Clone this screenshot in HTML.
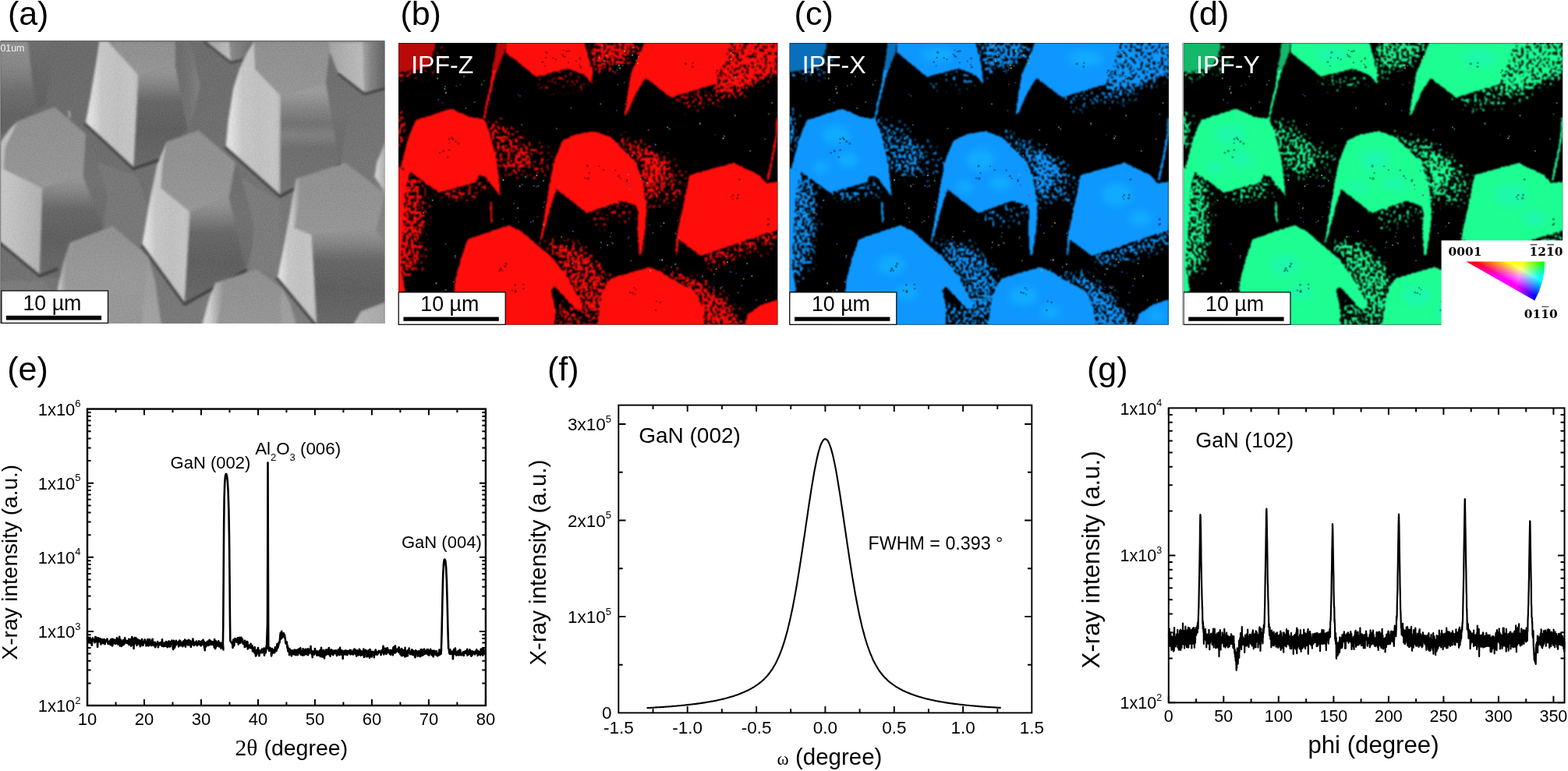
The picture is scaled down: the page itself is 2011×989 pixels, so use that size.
<!DOCTYPE html>
<html lang="en">
<head>
<meta charset="utf-8">
<title>GaN micro-pyramids: SEM, EBSD IPF maps and XRD scans</title>
<style>
html,body{margin:0;padding:0;background:#fff;}
body{width:2011px;height:989px;overflow:hidden;position:relative;}
svg{display:block;position:absolute;left:0;top:0;}
text{font-family:"Liberation Sans",Arial,Helvetica,sans-serif;fill:#000;}
.pl{font-size:43px;}
</style>
</head>
<body>
<svg width="2011" height="989" viewBox="0 0 2011 989">
<rect width="2011" height="989" fill="#fff"/>
<g id="panel-a">
<defs>
<clipPath id="semclip"><rect x="1.0" y="53.0" width="492.4" height="362.0"/></clipPath>
<filter id="semblur" x="-5%" y="-5%" width="110%" height="110%" color-interpolation-filters="sRGB"><feGaussianBlur stdDeviation="1.7"/></filter>
<filter id="semgrain" x="0" y="0" width="100%" height="100%" color-interpolation-filters="sRGB"><feTurbulence type="fractalNoise" baseFrequency="0.55" numOctaves="2" seed="3"/><feColorMatrix type="matrix" values="1.6 0 0 0 -0.3  1.6 0 0 0 -0.3  1.6 0 0 0 -0.3  0 0 0 0 1"/><feGaussianBlur stdDeviation="0.6"/></filter>
<linearGradient id="sg1" gradientUnits="userSpaceOnUse" x1="150" y1="60" x2="330" y2="410"><stop offset="0" stop-color="#6a6a6a"/><stop offset="0.45" stop-color="#707070"/><stop offset="1" stop-color="#7c7c7c"/></linearGradient>
<linearGradient id="sg2" gradientUnits="userSpaceOnUse" x1="265.6" y1="61.2" x2="295.5" y2="61.2"><stop offset="0" stop-color="#a4a4a4"/><stop offset="1" stop-color="#c2c2c2"/></linearGradient>
<linearGradient id="sg3" gradientUnits="userSpaceOnUse" x1="294.6" y1="61.2" x2="319.9" y2="61.2"><stop offset="0" stop-color="#8c8c8c"/><stop offset="1" stop-color="#707070"/></linearGradient>
<linearGradient id="sg4" gradientUnits="userSpaceOnUse" x1="424.6" y1="68.7" x2="465.8" y2="68.7"><stop offset="0" stop-color="#a8a8a8"/><stop offset="0.6" stop-color="#b6b6b6"/><stop offset="1" stop-color="#bebebe"/></linearGradient>
<linearGradient id="sg5" gradientUnits="userSpaceOnUse" x1="465.8" y1="68.7" x2="493.9" y2="68.7"><stop offset="0" stop-color="#a4a4a4"/><stop offset="0.35" stop-color="#848484"/><stop offset="1" stop-color="#606060"/></linearGradient>
<linearGradient id="sg6" gradientUnits="userSpaceOnUse" x1="18.7" y1="53.7" x2="18.7" y2="147.3"><stop offset="0" stop-color="#909090"/><stop offset="0.35" stop-color="#868686"/><stop offset="0.7" stop-color="#6c6c6c"/><stop offset="1" stop-color="#626262"/></linearGradient>
<linearGradient id="sg7" gradientUnits="userSpaceOnUse" x1="52.4" y1="53.7" x2="52.4" y2="137.9"><stop offset="0" stop-color="#6c6c6c"/><stop offset="1" stop-color="#606060"/></linearGradient>
<linearGradient id="sg8" gradientUnits="userSpaceOnUse" x1="176.9" y1="53.6" x2="176.9" y2="97.3"><stop offset="0" stop-color="#909090"/><stop offset="1" stop-color="#989898"/></linearGradient>
<linearGradient id="sg9" gradientUnits="userSpaceOnUse" x1="112.3" y1="122.8" x2="176.9" y2="122.8"><stop offset="0" stop-color="#e8e8e8"/><stop offset="0.1" stop-color="#e2e2e2"/><stop offset="0.28" stop-color="#cacaca"/><stop offset="0.6" stop-color="#c4c4c4"/><stop offset="0.9" stop-color="#c8c8c8"/><stop offset="1" stop-color="#bebebe"/></linearGradient>
<linearGradient id="sg10" gradientUnits="userSpaceOnUse" x1="204.2" y1="91" x2="204.2" y2="213.8"><stop offset="0" stop-color="#969696"/><stop offset="0.12" stop-color="#888888"/><stop offset="0.32" stop-color="#666666"/><stop offset="0.62" stop-color="#5e5e5e"/><stop offset="1" stop-color="#686868"/></linearGradient>
<linearGradient id="sg11" gradientUnits="userSpaceOnUse" x1="225.1" y1="104.6" x2="257" y2="104.6"><stop offset="0" stop-color="#6a6a6a"/><stop offset="0.6" stop-color="#747474"/><stop offset="1" stop-color="#848484"/></linearGradient>
<linearGradient id="sg12" gradientUnits="userSpaceOnUse" x1="376" y1="53.7" x2="376" y2="124.9"><stop offset="0" stop-color="#909090"/><stop offset="1" stop-color="#989898"/></linearGradient>
<linearGradient id="sg13" gradientUnits="userSpaceOnUse" x1="291.8" y1="143.6" x2="359.1" y2="143.6"><stop offset="0" stop-color="#e8e8e8"/><stop offset="0.1" stop-color="#e2e2e2"/><stop offset="0.28" stop-color="#cacaca"/><stop offset="0.6" stop-color="#c4c4c4"/><stop offset="0.9" stop-color="#c8c8c8"/><stop offset="1" stop-color="#bebebe"/></linearGradient>
<linearGradient id="sg14" gradientUnits="userSpaceOnUse" x1="394.7" y1="119.2" x2="394.7" y2="248.4"><stop offset="0" stop-color="#9c9c9c"/><stop offset="0.12" stop-color="#8a8a8a"/><stop offset="0.3" stop-color="#727272"/><stop offset="0.42" stop-color="#808080"/><stop offset="0.55" stop-color="#6e6e6e"/><stop offset="1" stop-color="#747474"/></linearGradient>
<linearGradient id="sg15" gradientUnits="userSpaceOnUse" x1="432.1" y1="66.8" x2="432.1" y2="210.9"><stop offset="0" stop-color="#6c6c6c"/><stop offset="0.5" stop-color="#727272"/><stop offset="1" stop-color="#686868"/></linearGradient>
<linearGradient id="sg16" gradientUnits="userSpaceOnUse" x1="480.5" y1="218.4" x2="494.8" y2="218.4"><stop offset="0" stop-color="#e0e0e0"/><stop offset="0.4" stop-color="#c8c8c8"/><stop offset="1" stop-color="#b0b0b0"/></linearGradient>
<linearGradient id="sg17" gradientUnits="userSpaceOnUse" x1="60.6" y1="139.4" x2="60.6" y2="241.3"><stop offset="0" stop-color="#909090"/><stop offset="1" stop-color="#989898"/></linearGradient>
<linearGradient id="sg18" gradientUnits="userSpaceOnUse" x1="0" y1="289.8" x2="54.6" y2="289.8"><stop offset="0" stop-color="#cccccc"/><stop offset="0.5" stop-color="#c0c0c0"/><stop offset="1" stop-color="#b2b2b2"/></linearGradient>
<linearGradient id="sg19" gradientUnits="userSpaceOnUse" x1="84.9" y1="229.1" x2="84.9" y2="352.8"><stop offset="0" stop-color="#969696"/><stop offset="0.12" stop-color="#888888"/><stop offset="0.32" stop-color="#666666"/><stop offset="0.62" stop-color="#5e5e5e"/><stop offset="1" stop-color="#686868"/></linearGradient>
<linearGradient id="sg20" gradientUnits="userSpaceOnUse" x1="121.3" y1="173.4" x2="121.3" y2="289.8"><stop offset="0" stop-color="#6c6c6c"/><stop offset="0.5" stop-color="#727272"/><stop offset="1" stop-color="#686868"/></linearGradient>
<linearGradient id="sg21" gradientUnits="userSpaceOnUse" x1="254.9" y1="167.3" x2="254.9" y2="266.7"><stop offset="0" stop-color="#909090"/><stop offset="1" stop-color="#989898"/></linearGradient>
<linearGradient id="sg22" gradientUnits="userSpaceOnUse" x1="183.3" y1="305.5" x2="242.8" y2="305.5"><stop offset="0" stop-color="#e8e8e8"/><stop offset="0.1" stop-color="#e2e2e2"/><stop offset="0.28" stop-color="#cacaca"/><stop offset="0.6" stop-color="#c4c4c4"/><stop offset="0.9" stop-color="#c8c8c8"/><stop offset="1" stop-color="#bebebe"/></linearGradient>
<linearGradient id="sg23" gradientUnits="userSpaceOnUse" x1="279.1" y1="257" x2="279.1" y2="388"><stop offset="0" stop-color="#969696"/><stop offset="0.12" stop-color="#888888"/><stop offset="0.32" stop-color="#666666"/><stop offset="0.62" stop-color="#5e5e5e"/><stop offset="1" stop-color="#686868"/></linearGradient>
<linearGradient id="sg24" gradientUnits="userSpaceOnUse" x1="310.7" y1="208.5" x2="310.7" y2="346.7"><stop offset="0" stop-color="#6c6c6c"/><stop offset="0.5" stop-color="#727272"/><stop offset="1" stop-color="#686868"/></linearGradient>
<linearGradient id="sg25" gradientUnits="userSpaceOnUse" x1="434.7" y1="208.6" x2="434.7" y2="301.6"><stop offset="0" stop-color="#909090"/><stop offset="1" stop-color="#989898"/></linearGradient>
<linearGradient id="sg26" gradientUnits="userSpaceOnUse" x1="373" y1="259.8" x2="384.7" y2="259.8"><stop offset="0" stop-color="#d6d6d6"/><stop offset="0.5" stop-color="#b4b4b4"/><stop offset="1" stop-color="#969696"/></linearGradient>
<linearGradient id="sg27" gradientUnits="userSpaceOnUse" x1="356.7" y1="352.8" x2="404.4" y2="352.8"><stop offset="0" stop-color="#e8e8e8"/><stop offset="0.1" stop-color="#e2e2e2"/><stop offset="0.28" stop-color="#cacaca"/><stop offset="0.6" stop-color="#c4c4c4"/><stop offset="0.9" stop-color="#c8c8c8"/><stop offset="1" stop-color="#bebebe"/></linearGradient>
<linearGradient id="sg28" gradientUnits="userSpaceOnUse" x1="446.3" y1="294.7" x2="446.3" y2="417.9"><stop offset="0" stop-color="#969696"/><stop offset="0.12" stop-color="#888888"/><stop offset="0.32" stop-color="#666666"/><stop offset="0.62" stop-color="#5e5e5e"/><stop offset="1" stop-color="#686868"/></linearGradient>
<linearGradient id="sg29" gradientUnits="userSpaceOnUse" x1="127.6" y1="290.1" x2="127.6" y2="415.2"><stop offset="0" stop-color="#929292"/><stop offset="0.5" stop-color="#9a9a9a"/><stop offset="1" stop-color="#989898"/></linearGradient>
<linearGradient id="sg30" gradientUnits="userSpaceOnUse" x1="74.4" y1="367.9" x2="85.4" y2="367.9"><stop offset="0" stop-color="#d4d4d4"/><stop offset="0.35" stop-color="#bababa"/><stop offset="1" stop-color="#989898"/></linearGradient>
<linearGradient id="sg31" gradientUnits="userSpaceOnUse" x1="195.2" y1="329" x2="195.2" y2="415.2"><stop offset="0" stop-color="#9c9c9c"/><stop offset="1" stop-color="#a4a4a4"/></linearGradient>
<linearGradient id="sg32" gradientUnits="userSpaceOnUse" x1="313.6" y1="345.1" x2="313.6" y2="415.2"><stop offset="0" stop-color="#909090"/><stop offset="1" stop-color="#989898"/></linearGradient>
<linearGradient id="sg33" gradientUnits="userSpaceOnUse" x1="267.9" y1="384.8" x2="284.9" y2="384.8"><stop offset="0" stop-color="#d8d8d8"/><stop offset="0.4" stop-color="#bcbcbc"/><stop offset="1" stop-color="#9a9a9a"/></linearGradient>
<linearGradient id="sg34" gradientUnits="userSpaceOnUse" x1="453.3" y1="399.3" x2="492.8" y2="399.3"><stop offset="0" stop-color="#cccccc"/><stop offset="0.25" stop-color="#b4b4b4"/><stop offset="1" stop-color="#aaaaaa"/></linearGradient>
</defs>
<rect x="0.4" y="52.2" width="493.0" height="362.8" fill="#3c3c3c"/>
<g clip-path="url(#semclip)"><g filter="url(#semblur)">
<polygon points="0,50 495,50 495,417 0,417" fill="url(#sg1)"/>
<polygon points="123.5,207.2 175.9,225.9 194.6,282 175.9,334.4 134.7,289.5" fill="#787878"/>
<polygon points="306.9,225.9 359.3,259.6 359.3,349.4 321.9,349.4" fill="#7c7c7c"/>
<polygon points="0,360.6 56.1,360.6 78.6,386.8 0,386.8" fill="#7c7c7c"/>
<polygon points="262.8,53.4 294,53.4 296.3,79.9" fill="url(#sg2)"/>
<polygon points="294,53.4 321.7,53.4 309.6,76.6 296.3,79.9" fill="url(#sg3)"/>
<polyline points="262.8,54.1 296.3,80.3 310.1,76.9" fill="none" stroke="#2c2c2c" stroke-width="2.6" stroke-opacity="0.8" stroke-linecap="round" stroke-linejoin="round"/>
<polygon points="420.9,53.4 465.4,53.4 467.3,120 434,94.2 422.8,66.8" fill="url(#sg4)"/>
<polygon points="465.4,53.4 493.9,53.4 493.9,112.9 467.3,120" fill="url(#sg5)"/>
<polyline points="434.4,94.9 467.3,120.5 493.9,113.6" fill="none" stroke="#2c2c2c" stroke-width="3.0" stroke-opacity="0.8" stroke-linecap="round" stroke-linejoin="round"/>
<polygon points="0,53.4 36.3,53.4 40.8,96.8 47.5,139.8 37.4,151 0,173.5" fill="url(#sg6)"/>
<polygon points="36.3,53.4 65.1,53.4 68.1,72.5 58.8,134.6 47.5,139.8 40.8,96.8" fill="url(#sg7)"/>
<polygon points="136.9,52.9 225.1,52.9 225.1,83.7 177.8,96.4" fill="url(#sg8)"/>
<polygon points="127.4,52.9 138,52.9 177.8,96.4 171.4,216.5 109.6,159.2 116.8,119.2 124.1,75.5" fill="url(#sg9)"/>
<polygon points="177.8,96.4 225.1,83.7 240.6,166.5 204.2,204.7 171.4,216.5" fill="url(#sg10)"/>
<polygon points="225.1,52.9 243.3,52.9 249.7,77.3 256.6,110.1 248.8,144.6 240.6,166.5 225.1,83.7" fill="url(#sg11)"/>
<polyline points="109.6,159.2 171.4,216.5 206,204.7" fill="none" stroke="#2c2c2c" stroke-width="3.4" stroke-opacity="0.8" stroke-linecap="round" stroke-linejoin="round"/>
<polygon points="325.5,53 421.8,53 422.8,66.8 418.1,106.1 359.9,123 327.3,88.4" fill="url(#sg12)"/>
<polygon points="325.8,53 327.3,88.4 359.9,123 359.3,252.1 289.5,189.4 292.7,154.8 299.3,113.6 306.8,89.3 316.1,68.7" fill="url(#sg13)"/>
<polygon points="359.9,123 418.1,106.1 436.1,210.9 359.3,252.1" fill="url(#sg14)"/>
<polygon points="422.8,66.8 435.9,102.4 446.3,141.7 441.5,177.2 436.1,210.9 418.1,106.1" fill="url(#sg15)"/>
<polyline points="289.5,189.4 359.3,252.1 436.1,210.9" fill="none" stroke="#2c2c2c" stroke-width="3.4" stroke-opacity="0.8" stroke-linecap="round" stroke-linejoin="round"/>
<polygon points="494.8,181 483.5,207.2 480.5,226.6 494.8,249.1" fill="url(#sg16)"/>
<polygon points="23,155.2 70.3,137 110.3,172.1 106.7,226.7 54.6,241.3 4.9,217 6.8,189.1" fill="url(#sg17)"/>
<polygon points="23,155.2 6.8,189.1 4.9,217 0,217 0,183.1 12.1,166.1" fill="#c2c2c2"/>
<polygon points="4.9,217 54.6,241.3 50.9,354 0,311.6 0,217" fill="url(#sg18)"/>
<polygon points="54.6,241.3 106.7,226.7 132.2,291 101.9,358.9 50.9,354" fill="url(#sg19)"/>
<polygon points="110.3,172.1 126.1,212.2 137.3,251 132.2,291 106.7,226.7" fill="url(#sg20)"/>
<polyline points="0,311.6 50.9,354 72.8,345.5" fill="none" stroke="#2c2c2c" stroke-width="3.4" stroke-opacity="0.8" stroke-linecap="round" stroke-linejoin="round"/>
<polyline points="88.2,142.6 89,146 89.6,150.6" fill="none" stroke="#d0d0d0" stroke-width="1.8" stroke-opacity="0.9" stroke-linecap="round" stroke-linejoin="round"/>
<polygon points="213.7,181.8 254.9,167.3 302.2,208.5 293.7,253.4 244,272 206.4,241.2 208.3,210.9" fill="url(#sg21)"/>
<polygon points="213.7,181.8 208.3,210.9 206.4,241.2 244,272 236.7,390.4 182.1,315.2 190.6,264.3 201.5,211.4" fill="url(#sg22)"/>
<polygon points="244,272 293.7,253.4 315.5,346.7 236.7,390.4" fill="url(#sg23)"/>
<polygon points="302.2,208.5 317.9,257 325.7,291 322.8,320.1 315.5,346.7 293.7,253.4" fill="url(#sg24)"/>
<polyline points="182.1,315.2 236.7,390.4 315.5,346.7" fill="none" stroke="#2c2c2c" stroke-width="3.4" stroke-opacity="0.8" stroke-linecap="round" stroke-linejoin="round"/>
<polygon points="380,229.5 442.8,208.6 494,248.1 482.3,295.1 399.8,301.2 371.9,290" fill="url(#sg25)"/>
<polygon points="380,229.5 387,227.2 383,259.8 377.7,292.3 371.9,290 374.2,259.8" fill="url(#sg26)"/>
<polygon points="380,229.5 371.9,290 399.8,301.2 406.7,419.1 355.6,357.4 364.9,310.9 374.2,259.8" fill="url(#sg27)"/>
<polygon points="399.8,301.2 482.3,295.1 494,310.9 494,419.1 406.7,419.1" fill="url(#sg28)"/>
<polygon points="494,248.1 494,310.9 482.3,295.1" fill="#848484"/>
<polyline points="355.6,357.4 406.7,419.1" fill="none" stroke="#2c2c2c" stroke-width="3.4" stroke-opacity="0.8" stroke-linecap="round" stroke-linejoin="round"/>
<polygon points="89.6,311.3 144.5,290.1 190.2,329 186.8,367.9 184.3,418.6 70.1,418.6 74.4,367.9 81.1,337.5" fill="url(#sg29)"/>
<polygon points="89.6,311.3 81.1,337.5 74.4,367.9 69.8,418.6 83.7,418.6 85.4,367.9 91.3,337.5 96.3,312.1" fill="url(#sg30)"/>
<polygon points="190.2,329 199,361.1 207.1,418.6 181.7,418.6 186,367.9" fill="url(#sg31)"/>
<polygon points="276.4,362.8 328.8,345.1 362.6,370.4 362.6,418.6 258.6,418.6 268.8,381.4" fill="url(#sg32)"/>
<polygon points="276.4,362.8 268.8,381.4 258.6,418.6 278.1,418.6 284.9,383.1 287.4,361.1" fill="url(#sg33)"/>
<polygon points="362.6,370.4 373.1,391.6 380.9,418.6 360.9,418.6 359.2,389.9" fill="#a0a0a0"/>
<polygon points="452.1,419.1 463,399.3 494,387.7 494,419.1" fill="url(#sg34)"/>
</g>
<rect x="1.0" y="53.0" width="492.4" height="362.0" filter="url(#semgrain)" opacity="0.055"/>
</g>
<text x="0.4" y="66.0" font-size="12.4" style="fill:#f0f0f0">01um</text>
<rect x="1.9" y="373" width="136.6" height="41.4" fill="#fff" stroke="#000" stroke-width="1.2"/>
<rect x="7.9" y="404.9" width="122.2" height="5.6" fill="#000"/>
<text x="66.9" y="398.2" font-size="26.8" text-anchor="middle">10 µm</text>
</g>
<defs>
<clipPath id="ipfclip"><rect x="0" y="0" width="486.4" height="361.6"/></clipPath>
<filter id="ipfb1" color-interpolation-filters="sRGB" x="-10" y="-10" width="510" height="390" filterUnits="userSpaceOnUse"><feGaussianBlur stdDeviation="0.75"/></filter>
<filter id="ipfb4" color-interpolation-filters="sRGB" x="-20" y="-20" width="530" height="410" filterUnits="userSpaceOnUse"><feGaussianBlur stdDeviation="4.2"/></filter>
<filter id="ipfb08" color-interpolation-filters="sRGB" x="-10" y="-10" width="510" height="390" filterUnits="userSpaceOnUse"><feGaussianBlur stdDeviation="0.75"/></filter>
<g id="ipfmap">
<rect x="-20" y="-20" width="530" height="410" fill-opacity="0.022"/>
<g filter="url(#ipfb4)">
<polygon points="246,-4 302,-4 302,16 286,30 262,32 250,46" fill-opacity="0.54"/>
<polygon points="300,-4 318,-4 310,14 300,20" fill-opacity="0.27"/>
<polygon points="415,-4 490,-4 490,38 445,58 412,63 406,52" fill-opacity="0.65"/>
<polygon points="110,98 135,105 160,125 172,150 160,170 128,165 124,140 116,112" fill-opacity="0.4"/>
<polygon points="150,125 190,135 196,160 175,172 150,160" fill-opacity="0.18"/>
<polygon points="272,118 300,125 330,140 345,160 340,180 318,200 314,182 305,153" fill-opacity="0.47"/>
<polygon points="318,135 350,150 366,175 360,205 330,205 318,215" fill-opacity="0.32"/>
<polygon points="190,255 225,258 255,280 268,310 262,340 236,342 215,300" fill-opacity="0.5"/>
<polygon points="203,335 262,340 255,368 200,368" fill-opacity="0.38"/>
<polygon points="338,294 380,300 420,330 447,368 393,368 380,318" fill-opacity="0.56"/>
<polygon points="388,273 470,246 490,240 490,256 450,270 400,288" fill-opacity="0.41"/>
<polygon points="242,218 286,203 305,209 300,225 260,235" fill-opacity="0.2"/>
<polygon points="176,44 227,37 240,42 235,55 190,60" fill-opacity="0.18"/>
<polygon points="349,70 406,53 445,58 440,72 370,85" fill-opacity="0.25"/>
<polygon points="52,192 99,179 112,172 115,190 70,205" fill-opacity="0.36"/>
<polygon points="-4,165 30,175 34,230 26,285 8,300 -4,300" fill-opacity="0.5"/>
<polygon points="-4,88 5,92 6,112 3,136 -4,136" fill-opacity="0.72"/>
<polygon points="-4,34 37,28 45,10 52,8 50,25 40,40 -4,46" fill-opacity="0.32"/>
</g>
<g filter="url(#ipfb1)">
<polygon points="-2,-2 47.9,-2 46.6,8.1 42,20 37.4,30.5 20.3,34.4 -2,38"/>
<polygon points="126.1,-2 137.3,-2 136,12.1 130.7,25.2 124.5,40 119.5,60 114.5,80 110.8,98 108.6,98 112.3,78 117.6,56 120.2,38.4 124.1,14.7"/>
<polygon points="137.3,-2 238.1,-2 244.7,21.3 247.3,38.4 248.7,52.8 243,46 238.1,41 227.6,37.1 217.1,33.1 176.3,43.6 154,25.2 137.3,12.1"/>
<polygon points="315.7,-2 425,-2 415,30 406,52.8 349.5,69.9 317,45 305.2,63.4 293.8,89.6 289.9,94 293.3,68.6 298.6,38.4 309.1,14.7"/>
<polygon points="22.3,98.9 67.6,84.4 91.3,94.9 109.7,97.5 116,112 121,130 126.8,156.4 129.5,180 130.7,196 121,184 112.3,172.2 103.1,169.6 99.2,178.8 51.8,191.9 15,165.6 2.5,160 12.2,123.5"/>
<polygon points="-2,159 15,165.6 8,190 6,230 4,260 3,285 8.5,318 -2,322"/>
<polygon points="210.5,124.9 227.6,117.3 251.3,113.3 272.3,120.9 285.5,134.1 305.2,153.8 314.4,182.7 318.3,215.6 316.4,240 311.4,272 308.6,272 306.4,240 307.5,218 305.2,209 285.5,202.4 242.1,218.2 202.6,188 197.4,202.4 192.1,222.2 185.6,247 180.4,259.6 182.9,247 188.2,215.6 193.4,182.7 200,149.9"/>
<polygon points="373.2,169.6 429.7,153.8 462.5,169.6 471.7,180.1 488,178 488,240 469.1,245.6 387.6,273.2 359.4,252 357.6,272 355.6,272 356.4,252 358.7,239 366.6,202.4"/>
<polygon points="88.7,252.1 125.5,239.3 142.5,234 158.3,241.9 180.3,261.3 197,275 215,298 233,330 236,340 228,342 212,325 200,312 196,318 200,335 201,351 200,366 60,366 71.6,319.2 72.9,304.7 79.4,278.4"/>
<polygon points="253.9,366 259.2,331 265.7,311.3 272.3,302.1 298.6,294.2 322.3,287.6 337.7,294.2 353.4,304.7 380,318 390,340 393,366"/>
<polygon points="442.8,366 448.1,348.1 465.2,336.3 488,328.4 488,366"/>
<polyline points="486,96 485.2,117 480.4,143 473.6,176" fill="none" stroke="#000" stroke-width="2.6"/>
<polyline points="118.4,204 119.6,230" fill="none" stroke="#000" stroke-width="2.2"/>
</g>
</g>
<clipPath id="ipftops">
<polygon points="137.3,-2 238.1,-2 244.7,21.3 247.3,38.4 248.7,52.8 243,46 238.1,41 227.6,37.1 217.1,33.1 176.3,43.6 154,25.2 137.3,12.1"/>
<polygon points="315.7,-2 425,-2 415,30 406,52.8 349.5,69.9 317,45 305.2,63.4 293.8,89.6 289.9,94 293.3,68.6 298.6,38.4 309.1,14.7"/>
<polygon points="22.3,98.9 67.6,84.4 91.3,94.9 109.7,97.5 116,112 121,130 126.8,156.4 129.5,180 130.7,196 121,184 112.3,172.2 103.1,169.6 99.2,178.8 51.8,191.9 15,165.6 2.5,160 12.2,123.5"/>
<polygon points="-2,159 15,165.6 8,190 6,230 4,260 3,285 8.5,318 -2,322"/>
<polygon points="210.5,124.9 227.6,117.3 251.3,113.3 272.3,120.9 285.5,134.1 305.2,153.8 314.4,182.7 318.3,215.6 316.4,240 311.4,272 308.6,272 306.4,240 307.5,218 305.2,209 285.5,202.4 242.1,218.2 202.6,188 197.4,202.4 192.1,222.2 185.6,247 180.4,259.6 182.9,247 188.2,215.6 193.4,182.7 200,149.9"/>
<polygon points="373.2,169.6 429.7,153.8 462.5,169.6 471.7,180.1 488,178 488,240 469.1,245.6 387.6,273.2 359.4,252 357.6,272 355.6,272 356.4,252 358.7,239 366.6,202.4"/>
<polygon points="88.7,252.1 125.5,239.3 142.5,234 158.3,241.9 180.3,261.3 197,275 215,298 233,330 236,340 228,342 212,325 200,312 196,318 200,335 201,351 200,366 60,366 71.6,319.2 72.9,304.7 79.4,278.4"/>
<polygon points="253.9,366 259.2,331 265.7,311.3 272.3,302.1 298.6,294.2 322.3,287.6 337.7,294.2 353.4,304.7 380,318 390,340 393,366"/>
<polygon points="442.8,366 448.1,348.1 465.2,336.3 488,328.4 488,366"/>
</clipPath>
<filter id="ipfb3" color-interpolation-filters="sRGB" x="-10" y="-10" width="510" height="390" filterUnits="userSpaceOnUse"><feGaussianBlur stdDeviation="4"/></filter>
<g id="ipftex" clip-path="url(#ipftops)"><g filter="url(#ipfb3)" fill="#18ecff" fill-opacity="0.24">
<ellipse cx="60" cy="118" rx="18" ry="12"/>
<ellipse cx="75" cy="150" rx="14" ry="10"/>
<ellipse cx="40" cy="160" rx="10" ry="8"/>
<ellipse cx="190" cy="15" rx="20" ry="9"/>
<ellipse cx="380" cy="20" rx="22" ry="10"/>
<ellipse cx="245" cy="150" rx="18" ry="14"/>
<ellipse cx="270" cy="180" rx="14" ry="9"/>
<ellipse cx="225" cy="185" rx="10" ry="8"/>
<ellipse cx="420" cy="195" rx="20" ry="14"/>
<ellipse cx="450" cy="225" rx="14" ry="10"/>
<ellipse cx="130" cy="285" rx="18" ry="12"/>
<ellipse cx="150" cy="320" rx="14" ry="9"/>
<ellipse cx="300" cy="325" rx="18" ry="12"/>
<ellipse cx="335" cy="345" rx="12" ry="8"/>
<ellipse cx="470" cy="350" rx="10" ry="7"/>
</g></g>
<g id="ipfover">
<polygon points="-2,-2 50,-2 48,10 39,33 21,37 -2,41" fill="#000" fill-opacity="0.27"/>
<polygon points="124,-2 139,-2 138,13 132,27 126,34 121,36" fill="#000" fill-opacity="0.27"/>
<circle cx="57.6" cy="138.7" r="1.82" fill="#000" fill-opacity="0.34"/>
<circle cx="53.0" cy="141.0" r="1.55" fill="#000" fill-opacity="0.34"/>
<circle cx="65.1" cy="137.3" r="1.5" fill="#000" fill-opacity="0.34"/>
<circle cx="63.1" cy="146.7" r="1.49" fill="#000" fill-opacity="0.34"/>
<circle cx="64.9" cy="128.6" r="1.14" fill="#000" fill-opacity="0.34"/>
<circle cx="65.2" cy="123.5" r="1.47" fill="#000" fill-opacity="0.34"/>
<circle cx="69.7" cy="123.5" r="1.06" fill="#000" fill-opacity="0.34"/>
<circle cx="70.2" cy="124.0" r="1.27" fill="#000" fill-opacity="0.34"/>
<circle cx="77.1" cy="129.2" r="1.43" fill="#000" fill-opacity="0.34"/>
<circle cx="68.6" cy="122.0" r="1.64" fill="#000" fill-opacity="0.34"/>
<circle cx="73.2" cy="126.6" r="1.72" fill="#000" fill-opacity="0.34"/>
<circle cx="198.1" cy="19.4" r="1.33" fill="#000" fill-opacity="0.34"/>
<circle cx="201.8" cy="21.3" r="1.23" fill="#000" fill-opacity="0.34"/>
<circle cx="190.1" cy="12.3" r="1.77" fill="#000" fill-opacity="0.34"/>
<circle cx="185.0" cy="24.5" r="1.52" fill="#000" fill-opacity="0.34"/>
<circle cx="189.0" cy="18.9" r="1.21" fill="#000" fill-opacity="0.34"/>
<circle cx="188.1" cy="29.5" r="1.03" fill="#000" fill-opacity="0.34"/>
<circle cx="232.1" cy="27.7" r="1.15" fill="#000" fill-opacity="0.34"/>
<circle cx="232.9" cy="20.1" r="1.81" fill="#000" fill-opacity="0.34"/>
<circle cx="218.1" cy="25.3" r="1.19" fill="#000" fill-opacity="0.34"/>
<circle cx="228.1" cy="23.4" r="1.26" fill="#000" fill-opacity="0.34"/>
<circle cx="233.7" cy="31.0" r="1.89" fill="#000" fill-opacity="0.34"/>
<circle cx="368.5" cy="26.8" r="1.81" fill="#000" fill-opacity="0.34"/>
<circle cx="377.5" cy="25.8" r="1.37" fill="#000" fill-opacity="0.34"/>
<circle cx="377.2" cy="30.6" r="1.69" fill="#000" fill-opacity="0.34"/>
<circle cx="408.9" cy="35.6" r="1.79" fill="#000" fill-opacity="0.34"/>
<circle cx="417.1" cy="39.3" r="1.9" fill="#000" fill-opacity="0.34"/>
<circle cx="409.1" cy="41.9" r="1.54" fill="#000" fill-opacity="0.34"/>
<circle cx="413.9" cy="40.6" r="1.37" fill="#000" fill-opacity="0.34"/>
<circle cx="407.3" cy="38.1" r="1.04" fill="#000" fill-opacity="0.34"/>
<circle cx="413.5" cy="36.8" r="1.86" fill="#000" fill-opacity="0.34"/>
<circle cx="239.6" cy="173.5" r="1.35" fill="#000" fill-opacity="0.34"/>
<circle cx="257.3" cy="158.3" r="1.09" fill="#000" fill-opacity="0.34"/>
<circle cx="263.0" cy="163.1" r="1.24" fill="#000" fill-opacity="0.34"/>
<circle cx="242.4" cy="157.9" r="1.84" fill="#000" fill-opacity="0.34"/>
<circle cx="244.9" cy="166.8" r="1.27" fill="#000" fill-opacity="0.34"/>
<circle cx="243.3" cy="174.0" r="1.89" fill="#000" fill-opacity="0.34"/>
<circle cx="293.2" cy="175.9" r="1.57" fill="#000" fill-opacity="0.34"/>
<circle cx="292.8" cy="177.6" r="1.42" fill="#000" fill-opacity="0.34"/>
<circle cx="282.6" cy="170.8" r="1.64" fill="#000" fill-opacity="0.34"/>
<circle cx="284.9" cy="173.9" r="1.05" fill="#000" fill-opacity="0.34"/>
<circle cx="278.1" cy="163.5" r="1.23" fill="#000" fill-opacity="0.34"/>
<circle cx="427.1" cy="197.8" r="1.16" fill="#000" fill-opacity="0.34"/>
<circle cx="434.8" cy="199.3" r="1.76" fill="#000" fill-opacity="0.34"/>
<circle cx="428.9" cy="200.5" r="1.09" fill="#000" fill-opacity="0.34"/>
<circle cx="437.4" cy="175.2" r="1.62" fill="#000" fill-opacity="0.34"/>
<circle cx="435.7" cy="195.2" r="1.59" fill="#000" fill-opacity="0.34"/>
<circle cx="429.2" cy="195.3" r="1.61" fill="#000" fill-opacity="0.34"/>
<circle cx="475.4" cy="232.1" r="1.3" fill="#000" fill-opacity="0.34"/>
<circle cx="474.6" cy="226.3" r="1.77" fill="#000" fill-opacity="0.34"/>
<circle cx="474.1" cy="233.2" r="1.59" fill="#000" fill-opacity="0.34"/>
<circle cx="130.9" cy="291.1" r="1.11" fill="#000" fill-opacity="0.34"/>
<circle cx="131.2" cy="289.4" r="1.73" fill="#000" fill-opacity="0.34"/>
<circle cx="137.0" cy="287.3" r="1.25" fill="#000" fill-opacity="0.34"/>
<circle cx="138.0" cy="283.3" r="1.73" fill="#000" fill-opacity="0.34"/>
<circle cx="133.2" cy="292.2" r="1.26" fill="#000" fill-opacity="0.34"/>
<circle cx="136.3" cy="286.2" r="1.31" fill="#000" fill-opacity="0.34"/>
<circle cx="129.6" cy="292.6" r="1.37" fill="#000" fill-opacity="0.34"/>
<circle cx="150.3" cy="318.3" r="1.85" fill="#000" fill-opacity="0.34"/>
<circle cx="160.3" cy="309.9" r="1.39" fill="#000" fill-opacity="0.34"/>
<circle cx="160.5" cy="315.2" r="1.2" fill="#000" fill-opacity="0.34"/>
<circle cx="149.7" cy="310.4" r="1.6" fill="#000" fill-opacity="0.34"/>
<circle cx="146.1" cy="317.6" r="1.31" fill="#000" fill-opacity="0.34"/>
<circle cx="150.3" cy="319.5" r="1.53" fill="#000" fill-opacity="0.34"/>
<circle cx="303.3" cy="322.6" r="1.03" fill="#000" fill-opacity="0.34"/>
<circle cx="302.3" cy="314.3" r="1.18" fill="#000" fill-opacity="0.34"/>
<circle cx="304.7" cy="316.5" r="1.04" fill="#000" fill-opacity="0.34"/>
<circle cx="297.0" cy="320.3" r="1.45" fill="#000" fill-opacity="0.34"/>
<circle cx="300.1" cy="321.0" r="1.48" fill="#000" fill-opacity="0.34"/>
<circle cx="336.1" cy="332.9" r="1.31" fill="#000" fill-opacity="0.34"/>
<circle cx="329.9" cy="343.0" r="1.43" fill="#000" fill-opacity="0.34"/>
<circle cx="330.9" cy="331.4" r="1.18" fill="#000" fill-opacity="0.34"/>
<circle cx="216.4" cy="11.0" r="1.22" fill="#000" fill-opacity="0.34"/>
<circle cx="213.9" cy="18.2" r="1.12" fill="#000" fill-opacity="0.34"/>
<circle cx="218.7" cy="10.3" r="1.51" fill="#000" fill-opacity="0.34"/>
<circle cx="210.1" cy="15.0" r="1.22" fill="#000" fill-opacity="0.34"/>
<circle cx="211.8" cy="9.5" r="1.05" fill="#000" fill-opacity="0.34"/>
<circle cx="212.0" cy="17.0" r="1.77" fill="#000" fill-opacity="0.34"/>
<circle cx="215.2" cy="11.1" r="1.04" fill="#000" fill-opacity="0.34"/>
<circle cx="294.8" cy="250.7" r="1.15" fill="#c8b428" fill-opacity="0.38"/>
<circle cx="255.6" cy="23.3" r="1.15" fill="#8a3cc0" fill-opacity="0.37"/>
<circle cx="336.7" cy="235.5" r="1.15" fill="#30b0a0" fill-opacity="0.38"/>
<circle cx="427.4" cy="21.2" r="1.15" fill="#c8b428" fill-opacity="0.61"/>
<circle cx="322.0" cy="233.8" r="1.15" fill="#3c46d8" fill-opacity="0.48"/>
<circle cx="406.5" cy="117.8" r="1.15" fill="#3c46d8" fill-opacity="0.4"/>
<circle cx="458.3" cy="28.6" r="1.15" fill="#2aa84a" fill-opacity="0.6"/>
<circle cx="432.4" cy="44.0" r="1.15" fill="#30b0a0" fill-opacity="0.7"/>
<circle cx="442.7" cy="302.7" r="1.15" fill="#b0b0a0" fill-opacity="0.46"/>
<circle cx="431.8" cy="93.3" r="1.15" fill="#b0b0a0" fill-opacity="0.59"/>
<circle cx="272.9" cy="243.7" r="1.15" fill="#2aa84a" fill-opacity="0.4"/>
<circle cx="326.6" cy="244.1" r="1.15" fill="#7080c0" fill-opacity="0.54"/>
<circle cx="294.7" cy="169.1" r="1.15" fill="#d0a040" fill-opacity="0.5"/>
<circle cx="259.4" cy="262.7" r="1.15" fill="#7080c0" fill-opacity="0.38"/>
<circle cx="291.1" cy="78.4" r="1.15" fill="#2aa84a" fill-opacity="0.38"/>
<circle cx="55.6" cy="319.1" r="1.15" fill="#7080c0" fill-opacity="0.48"/>
<circle cx="355.5" cy="244.5" r="1.15" fill="#7080c0" fill-opacity="0.51"/>
<circle cx="427.0" cy="12.9" r="1.15" fill="#b0b0a0" fill-opacity="0.41"/>
<circle cx="153.9" cy="229.6" r="1.15" fill="#7080c0" fill-opacity="0.39"/>
<circle cx="426.1" cy="293.9" r="1.15" fill="#3c46d8" fill-opacity="0.72"/>
<circle cx="266.7" cy="16.6" r="1.15" fill="#d0a040" fill-opacity="0.66"/>
<circle cx="358.3" cy="227.8" r="1.15" fill="#3c46d8" fill-opacity="0.42"/>
<circle cx="304.0" cy="163.9" r="1.15" fill="#3c46d8" fill-opacity="0.47"/>
<circle cx="60.9" cy="64.1" r="1.15" fill="#d0a040" fill-opacity="0.78"/>
<circle cx="307.0" cy="26.2" r="1.15" fill="#c8b428" fill-opacity="0.56"/>
<circle cx="337.9" cy="157.5" r="1.15" fill="#30b0a0" fill-opacity="0.53"/>
<circle cx="447.1" cy="283.1" r="1.15" fill="#2aa84a" fill-opacity="0.79"/>
<circle cx="404.6" cy="297.0" r="1.15" fill="#c8b428" fill-opacity="0.4"/>
<circle cx="429.1" cy="15.1" r="1.15" fill="#d0a040" fill-opacity="0.63"/>
<circle cx="279.9" cy="86.8" r="1.15" fill="#3c46d8" fill-opacity="0.64"/>
<circle cx="260.2" cy="255.8" r="1.15" fill="#2aa84a" fill-opacity="0.73"/>
<circle cx="433.2" cy="295.6" r="1.15" fill="#3c46d8" fill-opacity="0.4"/>
<circle cx="274.0" cy="256.1" r="1.15" fill="#3c46d8" fill-opacity="0.58"/>
<circle cx="187.1" cy="204.3" r="1.15" fill="#3c46d8" fill-opacity="0.66"/>
<circle cx="106.9" cy="53.4" r="1.15" fill="#2aa84a" fill-opacity="0.66"/>
<circle cx="48.5" cy="308.5" r="1.15" fill="#d0a040" fill-opacity="0.7"/>
<circle cx="282.5" cy="20.1" r="1.15" fill="#8a3cc0" fill-opacity="0.63"/>
<circle cx="178.4" cy="223.2" r="1.15" fill="#8a3cc0" fill-opacity="0.44"/>
<circle cx="422.0" cy="281.4" r="1.15" fill="#c8b428" fill-opacity="0.71"/>
<circle cx="413.3" cy="314.6" r="1.15" fill="#d0a040" fill-opacity="0.55"/>
<circle cx="295.5" cy="248.7" r="1.15" fill="#8a3cc0" fill-opacity="0.4"/>
<circle cx="407.7" cy="290.2" r="1.15" fill="#c8b428" fill-opacity="0.57"/>
<circle cx="310.6" cy="175.0" r="1.15" fill="#2aa84a" fill-opacity="0.76"/>
<circle cx="158.7" cy="181.6" r="1.15" fill="#d0a040" fill-opacity="0.39"/>
<circle cx="338.5" cy="278.2" r="1.15" fill="#2aa84a" fill-opacity="0.68"/>
<circle cx="478.9" cy="77.1" r="1.15" fill="#7080c0" fill-opacity="0.71"/>
<circle cx="417.9" cy="119.7" r="1.15" fill="#7080c0" fill-opacity="0.65"/>
<circle cx="215.6" cy="260.6" r="1.15" fill="#c8b428" fill-opacity="0.36"/>
<circle cx="296.2" cy="182.5" r="1.15" fill="#3c46d8" fill-opacity="0.55"/>
<circle cx="179.6" cy="183.7" r="1.15" fill="#b0b0a0" fill-opacity="0.45"/>
<circle cx="264.4" cy="23.5" r="1.15" fill="#b0b0a0" fill-opacity="0.59"/>
<circle cx="329.7" cy="130.5" r="1.15" fill="#7080c0" fill-opacity="0.65"/>
<circle cx="275.2" cy="36.7" r="1.15" fill="#3c46d8" fill-opacity="0.59"/>
<circle cx="280.6" cy="34.9" r="1.15" fill="#3c46d8" fill-opacity="0.62"/>
<circle cx="347.6" cy="110.5" r="1.15" fill="#2aa84a" fill-opacity="0.6"/>
<circle cx="268.2" cy="259.5" r="1.15" fill="#7080c0" fill-opacity="0.7"/>
<circle cx="281.3" cy="53.4" r="1.15" fill="#8a3cc0" fill-opacity="0.47"/>
<circle cx="221.2" cy="83.7" r="1.15" fill="#2aa84a" fill-opacity="0.55"/>
<circle cx="478.4" cy="40.3" r="1.15" fill="#8a3cc0" fill-opacity="0.66"/>
<circle cx="435.7" cy="320.4" r="1.15" fill="#8a3cc0" fill-opacity="0.66"/>
<circle cx="70.8" cy="306.6" r="1.15" fill="#8a3cc0" fill-opacity="0.73"/>
<circle cx="386.7" cy="104.4" r="1.15" fill="#d0a040" fill-opacity="0.38"/>
<circle cx="155.7" cy="183.8" r="1.15" fill="#b0b0a0" fill-opacity="0.7"/>
<circle cx="470.3" cy="123.3" r="1.15" fill="#d0a040" fill-opacity="0.41"/>
<circle cx="474.8" cy="91.5" r="1.15" fill="#2aa84a" fill-opacity="0.53"/>
<circle cx="404.7" cy="313.4" r="1.15" fill="#8a3cc0" fill-opacity="0.42"/>
<circle cx="359.8" cy="249.3" r="1.15" fill="#30b0a0" fill-opacity="0.44"/>
<circle cx="209.2" cy="248.8" r="1.15" fill="#d0a040" fill-opacity="0.6"/>
<circle cx="453.3" cy="299.2" r="1.15" fill="#b0b0a0" fill-opacity="0.58"/>
<circle cx="158.1" cy="105.1" r="1.15" fill="#8a3cc0" fill-opacity="0.79"/>
<circle cx="153.4" cy="66.3" r="1.15" fill="#3c46d8" fill-opacity="0.47"/>
<circle cx="451.2" cy="138.7" r="1.15" fill="#b0b0a0" fill-opacity="0.53"/>
<circle cx="305.2" cy="22.8" r="1.15" fill="#d0a040" fill-opacity="0.39"/>
<circle cx="110.0" cy="48.3" r="1.15" fill="#2aa84a" fill-opacity="0.47"/>
<circle cx="97.6" cy="76.1" r="1.15" fill="#2aa84a" fill-opacity="0.62"/>
<circle cx="134.0" cy="226.1" r="1.15" fill="#7080c0" fill-opacity="0.36"/>
<circle cx="275.1" cy="36.6" r="1.15" fill="#3c46d8" fill-opacity="0.37"/>
<circle cx="186.3" cy="233.0" r="1.15" fill="#b0b0a0" fill-opacity="0.37"/>
<circle cx="185.9" cy="210.9" r="1.15" fill="#8a3cc0" fill-opacity="0.48"/>
<circle cx="290.3" cy="10.8" r="1.15" fill="#c8b428" fill-opacity="0.8"/>
<circle cx="51.2" cy="73.0" r="1.15" fill="#8a3cc0" fill-opacity="0.58"/>
<circle cx="186.1" cy="176.9" r="1.15" fill="#30b0a0" fill-opacity="0.65"/>
<circle cx="300.1" cy="15.7" r="1.15" fill="#b0b0a0" fill-opacity="0.66"/>
<circle cx="150.6" cy="224.1" r="1.15" fill="#3c46d8" fill-opacity="0.53"/>
<circle cx="298.2" cy="279.4" r="1.15" fill="#c8b428" fill-opacity="0.38"/>
<circle cx="43.7" cy="201.9" r="1.15" fill="#30b0a0" fill-opacity="0.74"/>
<circle cx="348.3" cy="171.9" r="1.15" fill="#b0b0a0" fill-opacity="0.37"/>
<circle cx="345.2" cy="108.4" r="1.15" fill="#b0b0a0" fill-opacity="0.51"/>
<circle cx="297.3" cy="260.6" r="1.15" fill="#8a3cc0" fill-opacity="0.37"/>
<circle cx="32.0" cy="217.9" r="1.15" fill="#d0a040" fill-opacity="0.52"/>
<circle cx="415.1" cy="312.8" r="1.15" fill="#8a3cc0" fill-opacity="0.58"/>
<circle cx="56.8" cy="76.8" r="1.15" fill="#3c46d8" fill-opacity="0.53"/>
<circle cx="79.5" cy="53.5" r="1.15" fill="#8a3cc0" fill-opacity="0.39"/>
<circle cx="301.2" cy="6.2" r="1.15" fill="#30b0a0" fill-opacity="0.69"/>
<circle cx="403.5" cy="316.2" r="1.15" fill="#3c46d8" fill-opacity="0.37"/>
<circle cx="287.6" cy="29.4" r="1.15" fill="#3c46d8" fill-opacity="0.76"/>
<circle cx="284.1" cy="32.5" r="1.15" fill="#c8b428" fill-opacity="0.72"/>
<circle cx="467.9" cy="45.6" r="1.15" fill="#8a3cc0" fill-opacity="0.39"/>
<circle cx="60.0" cy="56.2" r="1.15" fill="#2aa84a" fill-opacity="0.52"/>
<circle cx="440.3" cy="311.4" r="1.15" fill="#8a3cc0" fill-opacity="0.57"/>
<circle cx="84.3" cy="43.2" r="1.15" fill="#2aa84a" fill-opacity="0.65"/>
<circle cx="259.3" cy="78.4" r="1.15" fill="#2aa84a" fill-opacity="0.73"/>
<circle cx="173.8" cy="183.3" r="1.15" fill="#7080c0" fill-opacity="0.57"/>
<circle cx="323.1" cy="292.4" r="1.15" fill="#b0b0a0" fill-opacity="0.7"/>
<circle cx="458.0" cy="19.9" r="1.15" fill="#3c46d8" fill-opacity="0.5"/>
<circle cx="334.6" cy="151.3" r="1.15" fill="#3c46d8" fill-opacity="0.36"/>
<circle cx="86.4" cy="83.8" r="1.15" fill="#2aa84a" fill-opacity="0.66"/>
<circle cx="319.4" cy="179.6" r="1.15" fill="#b0b0a0" fill-opacity="0.56"/>
<circle cx="459.0" cy="329.7" r="1.15" fill="#8a3cc0" fill-opacity="0.49"/>
<circle cx="289.8" cy="51.1" r="1.15" fill="#7080c0" fill-opacity="0.38"/>
<circle cx="308.1" cy="18.0" r="1.15" fill="#b0b0a0" fill-opacity="0.52"/>
<circle cx="134.5" cy="175.9" r="1.15" fill="#b0b0a0" fill-opacity="0.78"/>
<circle cx="416.5" cy="122.4" r="1.15" fill="#b0b0a0" fill-opacity="0.75"/>
<circle cx="223.1" cy="283.4" r="1.15" fill="#7080c0" fill-opacity="0.53"/>
<circle cx="320.6" cy="111.9" r="1.15" fill="#7080c0" fill-opacity="0.53"/>
<circle cx="386.6" cy="103.2" r="1.15" fill="#2aa84a" fill-opacity="0.73"/>
<circle cx="74.3" cy="55.2" r="1.15" fill="#30b0a0" fill-opacity="0.4"/>
<circle cx="172.8" cy="228.6" r="1.15" fill="#b0b0a0" fill-opacity="0.46"/>
<circle cx="202.9" cy="109.9" r="1.15" fill="#2aa84a" fill-opacity="0.51"/>
<circle cx="350.2" cy="287.6" r="1.15" fill="#b0b0a0" fill-opacity="0.4"/>
<circle cx="307.1" cy="195.5" r="1.15" fill="#8a3cc0" fill-opacity="0.79"/>
<circle cx="340.4" cy="231.1" r="1.15" fill="#d0a040" fill-opacity="0.7"/>
<circle cx="355.4" cy="284.0" r="1.15" fill="#30b0a0" fill-opacity="0.76"/>
<circle cx="283.0" cy="28.8" r="1.15" fill="#c8b428" fill-opacity="0.77"/>
<circle cx="338.0" cy="279.0" r="1.15" fill="#b0b0a0" fill-opacity="0.57"/>
<circle cx="257.6" cy="18.9" r="1.15" fill="#d0a040" fill-opacity="0.48"/>
<circle cx="60.6" cy="317.0" r="1.15" fill="#b0b0a0" fill-opacity="0.53"/>
<circle cx="148.1" cy="206.2" r="1.15" fill="#30b0a0" fill-opacity="0.4"/>
<circle cx="299.7" cy="144.6" r="1.15" fill="#7080c0" fill-opacity="0.6"/>
<circle cx="471.6" cy="329.8" r="1.15" fill="#7080c0" fill-opacity="0.54"/>
<circle cx="261.5" cy="3.6" r="1.15" fill="#d0a040" fill-opacity="0.6"/>
<circle cx="223.9" cy="241.8" r="1.15" fill="#8a3cc0" fill-opacity="0.75"/>
<circle cx="335.3" cy="278.4" r="1.15" fill="#8a3cc0" fill-opacity="0.52"/>
<circle cx="275.2" cy="257.4" r="1.15" fill="#d0a040" fill-opacity="0.41"/>
<circle cx="281.8" cy="31.6" r="1.15" fill="#8a3cc0" fill-opacity="0.39"/>
<circle cx="153.1" cy="212.0" r="1.15" fill="#30b0a0" fill-opacity="0.78"/>
<circle cx="59.5" cy="59.1" r="1.15" fill="#7080c0" fill-opacity="0.79"/>
<circle cx="390.0" cy="299.6" r="1.15" fill="#7080c0" fill-opacity="0.79"/>
<circle cx="177.0" cy="184.5" r="1.15" fill="#3c46d8" fill-opacity="0.59"/>
<circle cx="296.5" cy="187.8" r="1.15" fill="#7080c0" fill-opacity="0.39"/>
<circle cx="50.1" cy="45.7" r="1.15" fill="#c8b428" fill-opacity="0.64"/>
<circle cx="72.9" cy="273.3" r="1.15" fill="#30b0a0" fill-opacity="0.66"/>
<circle cx="155.9" cy="68.0" r="1.15" fill="#8a3cc0" fill-opacity="0.52"/>
<circle cx="177.4" cy="170.1" r="1.15" fill="#b0b0a0" fill-opacity="0.8"/>
<circle cx="72.7" cy="275.6" r="1.15" fill="#8a3cc0" fill-opacity="0.56"/>
<circle cx="162.8" cy="171.9" r="1.15" fill="#30b0a0" fill-opacity="0.67"/>
<circle cx="23.0" cy="219.3" r="1.15" fill="#30b0a0" fill-opacity="0.39"/>
<circle cx="170.0" cy="230.1" r="1.15" fill="#8a3cc0" fill-opacity="0.57"/>
<circle cx="271.8" cy="248.6" r="1.15" fill="#30b0a0" fill-opacity="0.44"/>
<circle cx="60.7" cy="258.1" r="1.15" fill="#8a3cc0" fill-opacity="0.57"/>
</g>
</defs>
<g id="panel-b" transform="translate(511 55)">
<filter id="dithb" x="0" y="0" width="486.4" height="361.6" filterUnits="userSpaceOnUse" color-interpolation-filters="sRGB">
<feTurbulence type="fractalNoise" baseFrequency="0.3 0.25" numOctaves="1" seed="109" result="n"/>
<feColorMatrix in="n" type="matrix" values="0 0 0 0 0  0 0 0 0 0  0 0 0 0 0  2.6 0 0 0 -0.8" result="na"/>
<feComposite in="SourceAlpha" in2="na" operator="arithmetic" k1="0" k2="1.1" k3="-1" k4="0.47" result="s"/>
<feComponentTransfer in="s" result="m"><feFuncA type="discrete" tableValues="0 1"/></feComponentTransfer>
<feFlood flood-color="#fe0d0b"/><feComposite in2="m" operator="in"/><feGaussianBlur stdDeviation="0.8"/>
</filter>
<rect x="0" y="0" width="486.4" height="361.6" fill="#000"/>
<g clip-path="url(#ipfclip)">
<g filter="url(#dithb)"><use href="#ipfmap"/></g>
<g filter="url(#ipfb08)"><use href="#ipfover"/></g>
</g>
<text x="16.2" y="38.7" font-size="32" style="fill:#fff">IPF-Z</text>
<rect x="0.2" y="319.9" width="137.0" height="41.4" fill="#fff" stroke="#000" stroke-width="1.2"/>
<rect x="6.4" y="351.6" width="122.4" height="5.2" fill="#000"/>
<text x="65.8" y="344.2" font-size="26.8" text-anchor="middle">10 µm</text>
</g>
<g id="panel-c" transform="translate(1012.6 55)">
<filter id="dithc" x="0" y="0" width="486.4" height="361.6" filterUnits="userSpaceOnUse" color-interpolation-filters="sRGB">
<feTurbulence type="fractalNoise" baseFrequency="0.3 0.25" numOctaves="1" seed="110" result="n"/>
<feColorMatrix in="n" type="matrix" values="0 0 0 0 0  0 0 0 0 0  0 0 0 0 0  2.6 0 0 0 -0.8" result="na"/>
<feComposite in="SourceAlpha" in2="na" operator="arithmetic" k1="0" k2="1.1" k3="-1" k4="0.47" result="s"/>
<feComponentTransfer in="s" result="m"><feFuncA type="discrete" tableValues="0 1"/></feComponentTransfer>
<feFlood flood-color="#0e98ff"/><feComposite in2="m" operator="in"/><feGaussianBlur stdDeviation="0.8"/>
</filter>
<rect x="0" y="0" width="486.4" height="361.6" fill="#000"/>
<g clip-path="url(#ipfclip)">
<g filter="url(#dithc)"><use href="#ipfmap"/></g>
<use href="#ipftex"/>
<g filter="url(#ipfb08)"><use href="#ipfover"/></g>
</g>
<text x="16.2" y="38.7" font-size="32" style="fill:#fff">IPF-X</text>
<rect x="0.2" y="319.9" width="137.0" height="41.4" fill="#fff" stroke="#000" stroke-width="1.2"/>
<rect x="6.4" y="351.6" width="122.4" height="5.2" fill="#000"/>
<text x="65.8" y="344.2" font-size="26.8" text-anchor="middle">10 µm</text>
</g>
<g id="panel-d" transform="translate(1517.8 55)">
<filter id="dithd" x="0" y="0" width="486.4" height="361.6" filterUnits="userSpaceOnUse" color-interpolation-filters="sRGB">
<feTurbulence type="fractalNoise" baseFrequency="0.3 0.25" numOctaves="1" seed="111" result="n"/>
<feColorMatrix in="n" type="matrix" values="0 0 0 0 0  0 0 0 0 0  0 0 0 0 0  2.6 0 0 0 -0.8" result="na"/>
<feComposite in="SourceAlpha" in2="na" operator="arithmetic" k1="0" k2="1.1" k3="-1" k4="0.47" result="s"/>
<feComponentTransfer in="s" result="m"><feFuncA type="discrete" tableValues="0 1"/></feComponentTransfer>
<feFlood flood-color="#1cfd92"/><feComposite in2="m" operator="in"/><feGaussianBlur stdDeviation="0.8"/>
</filter>
<rect x="0" y="0" width="486.4" height="361.6" fill="#000"/>
<g clip-path="url(#ipfclip)">
<g filter="url(#dithd)"><use href="#ipfmap"/></g>
<use href="#ipftex"/>
<g filter="url(#ipfb08)"><use href="#ipfover"/></g>
</g>
<text x="16.2" y="38.7" font-size="32" style="fill:#fff">IPF-Y</text>
<rect x="0.2" y="319.9" width="137.0" height="41.4" fill="#fff" stroke="#000" stroke-width="1.2"/>
<rect x="6.4" y="351.6" width="122.4" height="5.2" fill="#000"/>
<text x="65.8" y="344.2" font-size="26.8" text-anchor="middle">10 µm</text>
</g>
<rect x="1516.0" y="55" width="1.8" height="361.6" fill="#b9b9b9"/>
<g id="ipf-key">
<rect x="1848.6" y="308.4" width="162.4000000000001" height="108.80000000000001" fill="#fff"/>
<defs>
<clipPath id="keyclip"><path d="M1880.3 335.5 L1981.2 335.5 Q1981.6 362 1968.2 385.4 Z"/></clipPath>
<linearGradient id="kr" gradientUnits="userSpaceOnUse" x1="1974.6" y1="360.4" x2="1948.5" y2="353.6"><stop offset="0" stop-color="#000"/><stop offset="1" stop-color="#f00"/></linearGradient>
<linearGradient id="kg" gradientUnits="userSpaceOnUse" x1="1926.7" y1="356.0" x2="1937.0" y2="337.8"><stop offset="0" stop-color="#000"/><stop offset="1" stop-color="#0f0"/></linearGradient>
<linearGradient id="kb" gradientUnits="userSpaceOnUse" x1="1930" y1="335.5" x2="1930" y2="355.5"><stop offset="0" stop-color="#000"/><stop offset="1" stop-color="#00f"/></linearGradient>
</defs>
<g clip-path="url(#keyclip)" style="isolation:isolate">
<rect x="1875" y="330" width="112" height="60" fill="#000"/>
<rect x="1875" y="330" width="112" height="60" fill="url(#kr)" style="mix-blend-mode:screen"/>
<rect x="1875" y="330" width="112" height="60" fill="url(#kg)" style="mix-blend-mode:screen"/>
<rect x="1875" y="330" width="112" height="60" fill="url(#kb)" style="mix-blend-mode:screen"/>
</g>
<text x="1857.6" y="327.8" style="font-family:'DejaVu Serif','Liberation Serif',serif;font-weight:bold;font-size:15.4px">0001</text>
<text x="1961.6" y="327.8" style="font-family:'DejaVu Serif','Liberation Serif',serif;font-weight:bold;font-size:15.4px">1210</text>
<text x="1954.8" y="408.2" style="font-family:'DejaVu Serif','Liberation Serif',serif;font-weight:bold;font-size:15.4px">0110</text>
<path d="M1962.6 313.9h8.8M1984.2 313.9h8.8M1977.4 393.5h9" stroke="#333" stroke-width="1.1" fill="none"/>
</g>
<text class="pl" x="9.9" y="32.4">(a)</text>
<text class="pl" x="513.4" y="32.4">(b)</text>
<text class="pl" x="1018.6" y="32.4">(c)</text>
<text class="pl" x="1523.8" y="32.4">(d)</text>
<text class="pl" x="9.2" y="488.2">(e)</text>
<text class="pl" x="702.0" y="488.2">(f)</text>
<text class="pl" x="1394.0" y="488.2">(g)</text>
<g id="chart-e">
<polyline points="112,817.9 112.4,822 112.7,823.5 113.1,819.8 113.5,817.7 113.8,820.9 114.2,822.3 114.6,823.9 114.9,818.1 115.3,817.9 115.6,822.9 116,822.4 116.4,825 116.7,823.7 117.1,821 117.5,820.6 117.8,827.7 118.2,820.6 118.6,819.3 118.9,818.5 119.3,821.6 119.7,821.7 120,820.5 120.4,821.2 120.8,822.1 121.1,823.1 121.5,824.2 121.9,822 122.2,817 122.6,823.2 122.9,818 123.3,821.1 123.7,817.8 124,821.6 124.4,819.6 124.8,822.1 125.1,829.9 125.5,821.5 125.9,823.7 126.2,818.3 126.6,820.9 127,823.3 127.3,821.5 127.7,822.6 128.1,822 128.4,819.2 128.8,823.2 129.2,819.8 129.5,826.5 129.9,820.6 130.2,823.5 130.6,821.9 131,824.2 131.3,820.4 131.7,824.4 132.1,821.6 132.4,825.1 132.8,823.5 133.2,822.3 133.5,820 133.9,823.9 134.3,823.2 134.6,826.1 135,821.1 135.4,823.4 135.7,823.3 136.1,822.8 136.5,822.6 136.8,822.6 137.2,820.6 137.5,819.6 137.9,821.2 138.3,823.7 138.6,826 139,824.7 139.4,824.9 139.7,824.2 140.1,824 140.5,822.7 140.8,824.2 141.2,826.7 141.6,821.5 141.9,820.6 142.3,827.2 142.7,823 143,824.8 143.4,824.6 143.7,819.6 144.1,828.5 144.5,826.9 144.8,822.9 145.2,824.3 145.6,822.8 145.9,820.3 146.3,822.2 146.7,823.5 147,825.3 147.4,824.3 147.8,822.7 148.1,826 148.5,820.7 148.9,824.6 149.2,825.4 149.6,821.9 150,818.2 150.3,820.4 150.7,823.3 151,824 151.4,826.6 151.8,820.2 152.1,822.7 152.5,824.3 152.9,822.3 153.2,816.8 153.6,824.8 154,828.5 154.3,825.3 154.7,820.5 155.1,821.7 155.4,823.3 155.8,829 156.2,824.4 156.5,823.1 156.9,826.7 157.3,822.6 157.6,827.5 158,821.1 158.3,821.7 158.7,824.7 159.1,826.5 159.4,824.5 159.8,823.7 160.2,818.4 160.5,821.1 160.9,821.4 161.3,821.6 161.6,824.4 162,822.1 162.4,824.9 162.7,823.2 163.1,822.2 163.5,823.3 163.8,824.1 164.2,825.2 164.5,821.8 164.9,822.5 165.3,819.7 165.6,827.1 166,826.7 166.4,822.6 166.7,821.9 167.1,820 167.5,823.5 167.8,823.6 168.2,828.6 168.6,823.8 168.9,821.2 169.3,817.1 169.7,826.7 170,823.7 170.4,819.2 170.8,823.7 171.1,819.2 171.5,832 171.8,826.1 172.2,824.8 172.6,823 172.9,818.1 173.3,823.2 173.7,819.6 174,825 174.4,818.2 174.8,821.4 175.1,826.7 175.5,827.8 175.9,820.8 176.2,819.9 176.6,826 177,826 177.3,821.4 177.7,822.2 178.1,822.2 178.4,821 178.8,822.3 179.1,827.2 179.5,825.8 179.9,829.3 180.2,823.9 180.6,823.8 181,821.8 181.3,823.9 181.7,821 182.1,819.9 182.4,826.1 182.8,828 183.2,826.5 183.5,827.8 183.9,825.1 184.3,822.7 184.6,824.8 185,823.7 185.4,821.9 185.7,820.4 186.1,821 186.4,824.7 186.8,825.2 187.2,823.6 187.5,828.4 187.9,825.3 188.3,826.4 188.6,828 189,822.9 189.4,820.1 189.7,826.9 190.1,823.4 190.5,828.4 190.8,826 191.2,827.7 191.6,827.1 191.9,820.1 192.3,827.1 192.6,823.7 193,823.5 193.4,824.3 193.7,827.4 194.1,827.7 194.5,828 194.8,821.4 195.2,824.1 195.6,819.7 195.9,825.4 196.3,827.2 196.7,823.8 197,826.4 197.4,826.4 197.8,828.3 198.1,823.8 198.5,823.8 198.9,824 199.2,830.3 199.6,828.7 199.9,825.7 200.3,826.6 200.7,826.3 201,826.6 201.4,825.6 201.8,825.3 202.1,823 202.5,824.5 202.9,830.3 203.2,827.5 203.6,826.3 204,825.6 204.3,826.4 204.7,827.1 205.1,824.6 205.4,826.7 205.8,826.9 206.2,824.4 206.5,824.3 206.9,823.8 207.2,823.7 207.6,828.6 208,820.4 208.3,825.7 208.7,824.8 209.1,824.8 209.4,826.6 209.8,829.2 210.2,826.6 210.5,826.1 210.9,824.9 211.3,826.2 211.6,828.8 212,825.5 212.4,823.7 212.7,823.4 213.1,823.8 213.5,823.1 213.8,829.3 214.2,827.5 214.5,826 214.9,830.2 215.3,824.9 215.6,828.4 216,828.5 216.4,822.6 216.7,822.5 217.1,824.1 217.5,828.6 217.8,829.6 218.2,823.3 218.6,828.9 218.9,825.3 219.3,825.3 219.7,824.8 220,825.4 220.4,821.6 220.7,823.6 221.1,823 221.5,827.3 221.8,831.3 222.2,832.9 222.6,825.2 222.9,821.7 223.3,825 223.7,823.6 224,830.9 224.4,827.3 224.8,824.1 225.1,828.2 225.5,827.2 225.9,821.7 226.2,824.4 226.6,825.2 227,825.8 227.3,826 227.7,824.8 228,826.1 228.4,824.2 228.8,823.4 229.1,829.4 229.5,826.4 229.9,826.6 230.2,821.5 230.6,825 231,827.5 231.3,822.2 231.7,828.1 232.1,824.4 232.4,826.3 232.8,824.9 233.2,825.8 233.5,828.2 233.9,824.2 234.3,829.1 234.6,823.2 235,822.8 235.3,826.8 235.7,822.4 236.1,824.1 236.4,827.2 236.8,828 237.2,820.5 237.5,826.1 237.9,829.6 238.3,827.8 238.6,824.2 239,823.3 239.4,824 239.7,821.8 240.1,824 240.5,824.2 240.8,824.2 241.2,827.5 241.5,824 241.9,820.9 242.3,827.1 242.6,821.8 243,823.3 243.4,824.1 243.7,823.6 244.1,821.9 244.5,823.8 244.8,829.9 245.2,823 245.6,824.1 245.9,827.3 246.3,826.4 246.7,826.4 247,826.7 247.4,819.6 247.8,822.4 248.1,824.9 248.5,825.9 248.8,827.9 249.2,825.8 249.6,824.1 249.9,824.8 250.3,824.2 250.7,825.3 251,826.4 251.4,823.9 251.8,822.7 252.1,822.6 252.5,827.5 252.9,828 253.2,827.3 253.6,827 254,826.9 254.3,824.8 254.7,826.5 255.1,822.2 255.4,824.4 255.8,823.1 256.1,826.7 256.5,823.5 256.9,824.7 257.2,826 257.6,828.4 258,823 258.3,822.7 258.7,827.1 259.1,822.3 259.4,826.3 259.8,823.7 260.2,824.9 260.5,820.7 260.9,827 261.3,824 261.6,823.1 262,830.5 262.4,827.1 262.7,834.2 263.1,826.4 263.4,824.6 263.8,825.7 264.2,829.5 264.5,825.5 264.9,826.7 265.3,826.9 265.6,823.4 266,826 266.4,824.4 266.7,822.6 267.1,827.9 267.5,827.4 267.8,826 268.2,823.6 268.6,820.9 268.9,827.1 269.3,825.7 269.6,821.8 270,825.8 270.4,822.2 270.7,826 271.1,826.4 271.5,827 271.8,826.7 272.2,826.6 272.6,823.4 272.9,825.3 273.3,825 273.7,825.7 274,827 274.4,827.9 274.8,830.5 275.1,820 275.5,827.4 275.9,826 276.2,832.2 276.6,828.9 276.9,822.4 277.3,827.6 277.7,825.3 278,829.1 278.4,824.1 278.8,826.5 279.1,826.4 279.5,826.5 279.9,825.4 280.2,822.3 280.6,828 281,829.4 281.3,826.8 281.7,824.4 282.1,827.5 282.4,828.7 282.8,827.1 283.2,827.8 283.5,831.6 283.9,825.6 284.2,827.3 284.6,824.2 285,827.5 285.3,827.7 285.7,826.9 286.1,827.4 286.4,833.5 285.9,826 286.3,800 286.7,740 287.1,680 287.6,640 288.2,620 288.9,611 289.6,608.2 290.3,608 291,610.5 291.8,617 292.6,630 293.4,655 294,690 294.5,740 294.9,790 295.3,822 297.7,825.5 298.1,825.4 298.5,830.9 298.8,825 299.2,820.5 299.6,825.6 299.9,821.9 300.3,828.1 300.7,820.6 301,821.9 301.4,819.1 301.8,823 302.1,820 302.5,822 302.9,821 303.2,820.1 303.6,823.7 304,823.3 304.3,821.1 304.7,818.6 305,818.1 305.4,821.3 305.8,826.5 306.1,819.3 306.5,818.4 306.9,818.6 307.2,817.8 307.6,818.3 308,820.4 308.3,824.8 308.7,821.4 309.1,820.3 309.4,817.8 309.8,822.6 310.2,822.2 310.5,819.4 310.9,820 311.3,822.8 311.6,825.7 312,824.9 312.3,824.1 312.7,823 313.1,824.8 313.4,824.2 313.8,829.9 314.2,821.9 314.5,824 314.9,828.3 315.3,824.7 315.6,829.1 316,825.7 316.4,826.4 316.7,825.3 317.1,823 317.5,824.2 317.8,832.4 318.2,828.7 318.5,828.8 318.9,829.9 319.3,829.2 319.6,830.5 320,827.5 320.4,827.8 320.7,831.1 321.1,828 321.5,825.7 321.8,828.7 322.2,828.1 322.6,831.4 322.9,828.5 323.3,828 323.7,830.2 324,835.3 324.4,831.7 324.8,832.7 325.1,832.7 325.5,833.8 325.8,835.7 326.2,837.3 326.6,830.1 326.9,838 327.3,835 327.7,834.4 328,841.4 328.4,835.1 328.8,840.6 329.1,838.3 329.5,833.5 329.9,837.5 330.2,838.3 330.6,836.3 331,831 331.3,835.9 331.7,836.3 332.1,834 332.4,841.3 332.8,836.1 333.1,835.7 333.5,835.9 333.9,834.6 334.2,834.6 334.6,836.8 335,837.3 335.3,835.2 335.7,836.1 336.1,832.6 336.4,837.2 336.8,833.8 337.2,836 337.5,833 337.9,833.8 338.3,835.4 338.6,831.6 339,840.6 339.4,834.1 339.7,833.8 340.1,832 340.4,837.7 340.8,837 341.2,834.1 341.5,829.7 341.9,831.7 343,800 343.3,700 343.5,593.5 343.8,700 344.1,800 344.3,832 345.2,835 345.6,832.3 345.9,830.8 346.3,830.9 346.6,832 347,834.1 347.4,832.6 347.7,834.4 348.1,841.4 348.5,839 348.8,832.1 349.2,835.6 349.6,835.1 349.9,834.7 350.3,837.4 350.7,833.8 351,833.7 351.4,833.4 351.8,833.9 352.1,837.2 352.5,835.8 352.9,830.3 353.2,832.4 353.6,831.3 353.9,835.2 354.3,833.6 354.7,834.6 355,831.6 355.4,826.4 355.8,831.6 356.1,830.4 356.5,830.5 356.9,825.4 357.2,828.2 357.6,824.9 358,823.4 358.3,824.6 358.7,823.2 359.1,818.6 359.4,815.1 359.8,811.8 360.2,815.9 360.5,819.5 360.9,816 361.2,809.9 361.6,812.7 362,815.3 362.3,817.8 362.7,816.9 363.1,815.2 363.4,815.1 363.8,812.3 364.2,814.2 364.5,814.8 364.9,814.1 365.3,817.6 365.6,817.9 366,821.1 366.4,825.3 366.7,825 367.1,825.6 367.4,825.4 367.8,823.4 368.2,828.1 368.5,831 368.9,828.3 369.3,835.2 369.6,832.5 370,835.4 370.4,833.9 370.7,831.8 371.1,840.3 371.5,832.5 371.8,837.9 372.2,834.4 372.6,836.8 372.9,834.3 373.3,835.5 373.7,838.8 374,841.4 374.4,834.4 374.7,836.5 375.1,838.9 375.5,834.9 375.8,838.3 376.2,834.6 376.6,838 376.9,837.6 377.3,839.6 377.7,837.5 378,833.6 378.4,838.2 378.8,833.8 379.1,838.4 379.5,840.3 379.9,838.1 380.2,835.2 380.6,839.6 381,837 381.3,833.5 381.7,835.7 382,840.1 382.4,835.8 382.8,836.9 383.1,835.8 383.5,832.4 383.9,835.3 384.2,837.5 384.6,837.1 385,836.2 385.3,831.3 385.7,839.7 386.1,838.4 386.4,839.2 386.8,839.9 387.2,835.5 387.5,835.1 387.9,837.4 388.3,840.8 388.6,832.4 389,836.1 389.3,834.9 389.7,838.1 390.1,840.3 390.4,835.9 390.8,833.6 391.2,836.8 391.5,836 391.9,832.8 392.3,838.9 392.6,835.4 393,838.4 393.4,833.4 393.7,839.4 394.1,833.1 394.5,839.3 394.8,832.2 395.2,840.2 395.5,835.8 395.9,832.8 396.3,836.1 396.6,837.6 397,834.3 397.4,835.5 397.7,837.4 398.1,836.3 398.5,829.1 398.8,835.7 399.2,837.8 399.6,837.5 399.9,839.3 400.3,835 400.7,843.2 401,838.8 401.4,837.6 401.8,839.5 402.1,839.2 402.5,837 402.8,835.2 403.2,839.4 403.6,837.9 403.9,832.1 404.3,834 404.7,838 405,837.1 405.4,837.5 405.8,838.4 406.1,837.2 406.5,840.8 406.9,835.4 407.2,835.8 407.6,837.6 408,838.7 408.3,838.8 408.7,840.6 409.1,835.7 409.4,839.8 409.8,838 410.1,834.3 410.5,836.5 410.9,842.1 411.2,838.8 411.6,835.7 412,830.9 412.3,835.1 412.7,835.1 413.1,837.1 413.4,842.7 413.8,838.8 414.2,837.7 414.5,834.6 414.9,834 415.3,836.4 415.6,835.8 416,844.4 416.4,835.9 416.7,835.4 417.1,839.8 417.4,837.1 417.8,833.9 418.2,840.2 418.5,836.2 418.9,833.6 419.3,837.8 419.6,838.2 420,836.1 420.4,838.7 420.7,839 421.1,834.8 421.5,831.8 421.8,831 422.2,836.7 422.6,840.1 422.9,839.5 423.3,840.5 423.6,841.7 424,837.1 424.4,839.7 424.7,833.2 425.1,838.8 425.5,838 425.8,836.8 426.2,835.9 426.6,834.3 426.9,837.4 427.3,840.2 427.7,836.1 428,838.4 428.4,835.4 428.8,837.7 429.1,834.6 429.5,838 429.9,836.5 430.2,837.9 430.6,835.6 430.9,834.2 431.3,836.3 431.7,839.7 432,841.1 432.4,836.3 432.8,839.1 433.1,839 433.5,838.1 433.9,833.2 434.2,837.9 434.6,834.7 435,840.1 435.3,839.1 435.7,838.7 436.1,830.8 436.4,838.7 436.8,838.9 437.2,834 437.5,839.6 437.9,837.4 438.2,836.7 438.6,835.4 439,834.6 439.3,836.1 439.7,844.9 440.1,837.7 440.4,837.7 440.8,835.6 441.2,835.7 441.5,835.8 441.9,835 442.3,839.4 442.6,836.5 443,839.4 443.4,834.3 443.7,839.5 444.1,837.1 444.4,838.9 444.8,837 445.2,835 445.5,840.2 445.9,836.1 446.3,836.8 446.6,835 447,837.7 447.4,836.2 447.7,837.9 448.1,838.1 448.5,835.5 448.8,833.7 449.2,838.3 449.6,839.5 449.9,839 450.3,834.4 450.7,838.7 451,838.2 451.4,837.9 451.7,838.3 452.1,836.4 452.5,837.8 452.8,839.6 453.2,836 453.6,833.6 453.9,837 454.3,837.7 454.7,832.6 455,835.5 455.4,838.7 455.8,836.9 456.1,837.5 456.5,834.1 456.9,839.5 457.2,841.6 457.6,836.7 458,835.4 458.3,834.4 458.7,839.5 459,837.5 459.4,835.3 459.8,840.3 460.1,839.2 460.5,838.8 460.9,832.9 461.2,837 461.6,838.8 462,834.2 462.3,839.6 462.7,840.8 463.1,839.8 463.4,835.5 463.8,835.5 464.2,839.6 464.5,839.8 464.9,840.3 465.3,840.3 465.6,837 466,836.2 466.3,832.6 466.7,839.2 467.1,843 467.4,836.1 467.8,836.1 468.2,838.9 468.5,838.2 468.9,833.9 469.3,835.5 469.6,834.5 470,842.3 470.4,835.5 470.7,839.4 471.1,842.1 471.5,842 471.8,840.9 472.2,841.4 472.5,834.2 472.9,836.4 473.3,835.5 473.6,836.6 474,843.8 474.4,833.1 474.7,838.7 475.1,834.2 475.5,840.6 475.8,840.5 476.2,836 476.6,842.5 476.9,837.5 477.3,840.5 477.7,838.1 478,835.9 478.4,836.3 478.8,837 479.1,838.8 479.5,837.5 479.8,843.1 480.2,836.7 480.6,836 480.9,835.4 481.3,835.2 481.7,833.6 482,834.7 482.4,839.4 482.8,837.3 483.1,836.7 483.5,838 483.9,839.8 484.2,838.6 484.6,839 485,835.7 485.3,836.4 485.7,835.1 486.1,836.8 486.4,835 486.8,836.1 487.1,836.6 487.5,836.4 487.9,836.3 488.2,835.7 488.6,840.2 489,836.1 489.3,834.4 489.7,837.4 490.1,834.2 490.4,834.2 490.8,837.1 491.2,832.7 491.5,828.8 491.9,837.6 492.3,839.4 492.6,832.7 493,834.6 493.4,838.3 493.7,831.8 494.1,834.6 494.4,833.8 494.8,836.3 495.2,831.8 495.5,839 495.9,836.4 496.3,837.5 496.6,835.9 497,831.4 497.4,836.3 497.7,833.3 498.1,836.7 498.5,834.5 498.8,835.9 499.2,836.1 499.6,838.6 499.9,838.5 500.3,834.1 500.6,836.4 501,839.9 501.4,837.3 501.7,834 502.1,835.4 502.5,834.6 502.8,837.6 503.2,835.2 503.6,835.9 503.9,840.3 504.3,831.1 504.7,831.8 505,829.8 505.4,830 505.8,835.9 506.1,834.3 506.5,837.6 506.9,828.5 507.2,831.1 507.6,836.9 507.9,835.8 508.3,835.3 508.7,835.2 509,833 509.4,832.8 509.8,832.8 510.1,834.8 510.5,832.2 510.9,833.6 511.2,836.6 511.6,830.3 512,831.4 512.3,834.9 512.7,833 513.1,833.4 513.4,839.2 513.8,835.2 514.2,833.3 514.5,837.2 514.9,841 515.2,832.1 515.6,833.3 516,835.4 516.3,833.7 516.7,840.9 517.1,836.9 517.4,834.7 517.8,837.1 518.2,834 518.5,834.6 518.9,836.5 519.3,842.4 519.6,830.9 520,837.8 520.4,840.2 520.7,838.9 521.1,841.8 521.4,838.1 521.8,837.4 522.2,836.7 522.5,834.9 522.9,841.1 523.3,834.1 523.6,836.7 524,835.7 524.4,835.1 524.7,831.5 525.1,836.1 525.5,837.4 525.8,837.4 526.2,839.2 526.6,836.7 526.9,835.5 527.3,837.9 527.7,838.8 528,834.8 528.4,833.3 528.7,834.5 529.1,839.8 529.5,839.6 529.8,834.9 530.2,837.4 530.6,839.2 530.9,840.5 531.3,835.5 531.7,836.6 532,840.7 532.4,843.2 532.8,841 533.1,834.3 533.5,838.3 533.9,836.4 534.2,837 534.6,835.5 535,836 535.3,837.2 535.7,841.7 536,839 536.4,838.3 536.8,837.3 537.1,835.3 537.5,836.7 537.9,840.3 538.2,839.3 538.6,842.2 539,837.9 539.3,837.2 539.7,833.2 540.1,838.3 540.4,833 540.8,841.1 541.2,835.7 541.5,837.3 541.9,833.9 542.3,836.1 542.6,835 543,840.1 543.3,837.9 543.7,834.4 544.1,832.5 544.4,837.2 544.8,836.1 545.2,834.6 545.5,838.8 545.9,836.9 546.3,837.6 546.6,835.9 547,835.9 547.4,836.2 547.7,833.4 548.1,838.9 548.5,838.4 548.8,833.1 549.2,837.6 549.5,840.3 549.9,838 550.3,840.6 550.6,836.7 551,837.4 551.4,834.2 551.7,835.1 552.1,832.8 552.5,835.2 552.8,838 553.2,838.7 553.6,840.3 553.9,837.7 554.3,834.9 554.7,838.5 555,837 555.4,841.9 555.8,842.3 556.1,839.8 556.5,834.6 556.8,836.1 557.2,837.9 557.6,835.6 557.9,838.7 558.3,839.1 558.7,839.5 559,838 559.4,835.2 559.8,835.3 560.1,837.1 560.5,840.7 560.9,841.3 561.2,839.8 561.6,838.3 562,839.1 562.3,839.5 562.7,840.6 563.1,839.5 563.4,833.6 563.8,839.8 564.1,838.4 564.5,836.3 564.9,839.1 565.2,838.9 565.6,838.4 565.9,834 566.6,810 567.4,770 568.2,738 569,723 569.8,718 570.5,717.6 571.3,720 572.1,728 572.9,745 573.7,775 574.5,810 575.2,832 575.8,832.8 576.2,837.3 576.6,838.5 576.9,837 577.3,833.2 577.6,838.3 578,839 578.4,837.7 578.7,838.3 579.1,836.3 579.5,835.6 579.8,838.5 580.2,836.3 580.6,837.7 580.9,845.3 581.3,839 581.7,837.5 582,833.1 582.4,837.4 582.8,839.1 583.1,835.4 583.5,836.6 583.9,831.6 584.2,838.6 584.6,835.7 584.9,838.9 585.3,840.6 585.7,836.8 586,839.7 586.4,837.8 586.8,836.7 587.1,836.5 587.5,835.1 587.9,840.4 588.2,839.4 588.6,834.7 589,839.3 589.3,835.4 589.7,833.4 590.1,840.2 590.4,834 590.8,840.2 591.2,837.7 591.5,839.5 591.9,838.5 592.2,840.1 592.6,838.1 593,838.6 593.3,837.8 593.7,839.9 594.1,836.2 594.4,839.7 594.8,841 595.2,837 595.5,838.3 595.9,835.9 596.3,836.5 596.6,837.8 597,836.3 597.4,835 597.7,837.1 598.1,837.6 598.4,838 598.8,838.9 599.2,832.7 599.5,840.7 599.9,836.7 600.3,835.2 600.6,836.2 601,838.3 601.4,839.3 601.7,836.2 602.1,837.5 602.5,833.2 602.8,837.6 603.2,836.9 603.6,836.1 603.9,839.3 604.3,841.6 604.7,839.7 605,835.2 605.4,840.9 605.7,836.3 606.1,837 606.5,835.7 606.8,838.2 607.2,838.5 607.6,837.5 607.9,836.6 608.3,836.7 608.7,836.1 609,839.5 609.4,835.8 609.8,836.7 610.1,836.6 610.5,835.2 610.9,836.5 611.2,833.4 611.6,838.1 612,838.4 612.3,836.3 612.7,840.9 613,835 613.4,838.5 613.8,838.3 614.1,835.7 614.5,836.5 614.9,839.3 615.2,837.2 615.6,837.8 616,840.5 616.3,837.6 616.7,832.9 617.1,835.2 617.4,839.1 617.8,836.7 618.2,834.3 618.5,832.1 618.9,837.8 619.3,840.8 619.6,833.9 620,831.6 620.3,838.3 620.7,835.7 621.1,836.3 621.4,836.2 621.8,834.8 622.2,838.1 622.5,839.3 622.9,837.9" fill="none" stroke="#000" stroke-width="2.6" stroke-linejoin="round"/>
<rect x="112" y="524.6" width="510.9" height="380.4" fill="none" stroke="#000" stroke-width="2.4"/>
<path d="M112 905L112 897M112 524.6L112 532.6M148.5 905L148.5 900.4M148.5 524.6L148.5 529.2M185 905L185 897M185 524.6L185 532.6M221.5 905L221.5 900.4M221.5 524.6L221.5 529.2M258 905L258 897M258 524.6L258 532.6M294.5 905L294.5 900.4M294.5 524.6L294.5 529.2M331 905L331 897M331 524.6L331 532.6M367.4 905L367.4 900.4M367.4 524.6L367.4 529.2M403.9 905L403.9 897M403.9 524.6L403.9 532.6M440.4 905L440.4 900.4M440.4 524.6L440.4 529.2M476.9 905L476.9 897M476.9 524.6L476.9 532.6M513.4 905L513.4 900.4M513.4 524.6L513.4 529.2M549.9 905L549.9 897M549.9 524.6L549.9 532.6M586.4 905L586.4 900.4M586.4 524.6L586.4 529.2M622.9 905L622.9 897M622.9 524.6L622.9 532.6M112 905L120 905M622.9 905L614.9 905M112 876.4L116.6 876.4M622.9 876.4L618.3 876.4M112 859.6L116.6 859.6M622.9 859.6L618.3 859.6M112 847.8L116.6 847.8M622.9 847.8L618.3 847.8M112 838.5L116.6 838.5M622.9 838.5L618.3 838.5M112 831L116.6 831M622.9 831L618.3 831M112 824.6L116.6 824.6M622.9 824.6L618.3 824.6M112 819.1L116.6 819.1M622.9 819.1L618.3 819.1M112 814.3L116.6 814.3M622.9 814.3L618.3 814.3M112 809.9L120 809.9M622.9 809.9L614.9 809.9M112 781.3L116.6 781.3M622.9 781.3L618.3 781.3M112 764.5L116.6 764.5M622.9 764.5L618.3 764.5M112 752.7L116.6 752.7M622.9 752.7L618.3 752.7M112 743.4L116.6 743.4M622.9 743.4L618.3 743.4M112 735.9L116.6 735.9M622.9 735.9L618.3 735.9M112 729.6L116.6 729.6M622.9 729.6L618.3 729.6M112 724L116.6 724M622.9 724L618.3 724M112 719.2L116.6 719.2M622.9 719.2L618.3 719.2M112 714.8L120 714.8M622.9 714.8L614.9 714.8M112 686.2L116.6 686.2M622.9 686.2L618.3 686.2M112 669.5L116.6 669.5M622.9 669.5L618.3 669.5M112 657.6L116.6 657.6M622.9 657.6L618.3 657.6M112 648.4L116.6 648.4M622.9 648.4L618.3 648.4M112 640.8L116.6 640.8M622.9 640.8L618.3 640.8M112 634.5L116.6 634.5M622.9 634.5L618.3 634.5M112 629L116.6 629M622.9 629L618.3 629M112 624.1L116.6 624.1M622.9 624.1L618.3 624.1M112 619.7L120 619.7M622.9 619.7L614.9 619.7M112 591.1L116.6 591.1M622.9 591.1L618.3 591.1M112 574.4L116.6 574.4M622.9 574.4L618.3 574.4M112 562.5L116.6 562.5M622.9 562.5L618.3 562.5M112 553.3L116.6 553.3M622.9 553.3L618.3 553.3M112 545.7L116.6 545.7M622.9 545.7L618.3 545.7M112 539.4L116.6 539.4M622.9 539.4L618.3 539.4M112 533.9L116.6 533.9M622.9 533.9L618.3 533.9M112 529L116.6 529M622.9 529L618.3 529" stroke="#000" stroke-width="2.0" fill="none"/>
<text x="112" y="930.3" font-size="22" text-anchor="middle">10</text>
<text x="185" y="930.3" font-size="22" text-anchor="middle">20</text>
<text x="258" y="930.3" font-size="22" text-anchor="middle">30</text>
<text x="331" y="930.3" font-size="22" text-anchor="middle">40</text>
<text x="403.9" y="930.3" font-size="22" text-anchor="middle">50</text>
<text x="476.9" y="930.3" font-size="22" text-anchor="middle">60</text>
<text x="549.9" y="930.3" font-size="22" text-anchor="middle">70</text>
<text x="622.9" y="930.3" font-size="22" text-anchor="middle">80</text>
<text x="103.6" y="913.2" font-size="22" text-anchor="end">1x10<tspan font-size="13" dy="-10.6">2</tspan></text>
<text x="103.6" y="818.1" font-size="22" text-anchor="end">1x10<tspan font-size="13" dy="-10.6">3</tspan></text>
<text x="103.6" y="723" font-size="22" text-anchor="end">1x10<tspan font-size="13" dy="-10.6">4</tspan></text>
<text x="103.6" y="627.9" font-size="22" text-anchor="end">1x10<tspan font-size="13" dy="-10.6">5</tspan></text>
<text x="103.6" y="532.9" font-size="22" text-anchor="end">1x10<tspan font-size="13" dy="-10.6">6</tspan></text>
<text transform="translate(21.6 846.4) rotate(-90)" font-size="28">X-ray intensity (a.u.)</text>
<text x="301.6" y="969.2" font-size="28.5"><tspan font-family="'Liberation Serif', 'Times New Roman', serif" font-size="29.5">2θ</tspan> (degree)</text>
<text x="218.6" y="600.8" font-size="22" text-anchor="start">GaN (002)</text>
<text x="327.2" y="583.0" font-size="22.3">Al<tspan font-size="13" dy="7.6">2</tspan><tspan dy="-7.6">O</tspan><tspan font-size="13" dy="7.6">3</tspan><tspan dy="-7.6"> (006)</tspan></text>
<text x="515" y="703.4" font-size="22" text-anchor="start">GaN (004)</text>
</g>
<g id="chart-f">
<polyline points="829.6,908.1 831.3,908 833.1,908 834.8,907.9 836.6,907.8 838.3,907.7 840.1,907.5 841.8,907.4 843.5,907.3 845.3,907.2 847,907.1 848.8,907 850.5,906.9 852.3,906.7 854,906.6 855.8,906.5 857.5,906.4 859.3,906.2 861,906.1 862.8,905.9 864.5,905.8 866.3,905.7 868,905.5 869.7,905.3 871.5,905.2 873.2,905 875,904.8 876.7,904.7 878.5,904.5 880.2,904.3 882,904.1 883.7,903.9 885.5,903.7 887.2,903.5 889,903.3 890.7,903.1 892.5,902.9 894.2,902.6 895.9,902.4 897.7,902.2 899.4,901.9 901.2,901.6 902.9,901.4 904.7,901.1 906.4,900.8 908.2,900.5 909.9,900.2 911.7,899.9 913.4,899.6 915.2,899.3 916.9,898.9 918.7,898.6 920.4,898.2 922.1,897.8 923.9,897.4 925.6,897 927.4,896.6 929.1,896.2 930.9,895.7 932.6,895.3 934.4,894.8 936.1,894.3 937.9,893.8 939.6,893.2 941.4,892.7 943.1,892.1 944.8,891.5 946.6,890.9 948.3,890.2 950.1,889.5 951.8,888.8 953.6,888.1 955.3,887.3 957.1,886.5 958.8,885.7 960.6,884.8 962.3,883.9 964.1,882.9 965.8,881.9 967.6,880.8 969.3,879.7 971,878.5 972.8,877.3 974.5,875.9 976.3,874.5 978,873 979.8,871.4 981.5,869.6 983.3,867.7 985,865.7 986.8,863.5 988.5,861.2 990.3,858.6 992,855.8 993.8,852.8 995.5,849.5 997.2,845.9 999,842 1000.7,837.8 1002.5,833.2 1004.2,828.1 1006,822.7 1007.7,816.8 1009.5,810.4 1011.2,803.5 1013,796.1 1014.7,788.2 1016.5,779.8 1018.2,770.9 1020,761.4 1021.7,751.5 1023.4,741.1 1025.2,730.2 1026.9,719 1028.7,707.5 1030.4,695.7 1032.2,683.8 1033.9,671.8 1035.7,659.8 1037.4,648 1039.2,636.5 1040.9,625.3 1042.7,614.7 1044.4,604.8 1046.2,595.7 1047.9,587.4 1049.6,580.2 1051.4,574.2 1053.1,569.4 1054.9,565.9 1056.6,563.8 1058.4,563.1 1060.1,563.8 1061.9,565.8 1063.6,569.3 1065.4,574.1 1067.1,580.1 1068.9,587.3 1070.6,595.4 1072.4,604.6 1074.1,614.5 1075.8,625.1 1077.6,636.2 1079.3,647.7 1081.1,659.5 1082.8,671.5 1084.6,683.5 1086.3,695.4 1088.1,707.2 1089.8,718.7 1091.6,730 1093.3,740.8 1095.1,751.2 1096.8,761.2 1098.6,770.7 1100.3,779.6 1102,788.1 1103.8,796 1105.5,803.4 1107.3,810.2 1109,816.6 1110.8,822.5 1112.5,828 1114.3,833 1116,837.7 1117.8,841.9 1119.5,845.9 1121.3,849.4 1123,852.7 1124.8,855.8 1126.5,858.6 1128.2,861.1 1130,863.5 1131.7,865.7 1133.5,867.7 1135.2,869.6 1137,871.3 1138.7,873 1140.5,874.5 1142.2,875.9 1144,877.2 1145.7,878.5 1147.5,879.7 1149.2,880.8 1151,881.9 1152.7,882.9 1154.4,883.9 1156.2,884.8 1157.9,885.7 1159.7,886.5 1161.4,887.3 1163.2,888.1 1164.9,888.8 1166.7,889.5 1168.4,890.2 1170.2,890.8 1171.9,891.5 1173.7,892.1 1175.4,892.7 1177.1,893.2 1178.9,893.8 1180.6,894.3 1182.4,894.8 1184.1,895.3 1185.9,895.7 1187.6,896.2 1189.4,896.6 1191.1,897 1192.9,897.4 1194.6,897.8 1196.4,898.2 1198.1,898.6 1199.9,898.9 1201.6,899.3 1203.3,899.6 1205.1,899.9 1206.8,900.2 1208.6,900.5 1210.3,900.8 1212.1,901.1 1213.8,901.4 1215.6,901.6 1217.3,901.9 1219.1,902.2 1220.8,902.4 1222.6,902.6 1224.3,902.9 1226.1,903.1 1227.8,903.3 1229.5,903.5 1231.3,903.7 1233,903.9 1234.8,904.1 1236.5,904.3 1238.3,904.5 1240,904.7 1241.8,904.8 1243.5,905 1245.3,905.2 1247,905.3 1248.8,905.5 1250.5,905.6 1252.3,905.8 1254,905.9 1255.7,906.1 1257.5,906.2 1259.2,906.4 1261,906.5 1262.7,906.6 1264.5,906.7 1266.2,906.9 1268,907 1269.7,907.1 1271.5,907.2 1273.2,907.3 1275,907.4 1276.7,907.5 1278.5,907.6 1280.2,907.8 1281.9,907.9 1283.7,907.9" fill="none" stroke="#000" stroke-width="2.1" stroke-linejoin="round"/>
<rect x="793.3" y="519.7" width="530" height="394.7" fill="none" stroke="#000" stroke-width="1.9"/>
<path d="M837.5 914.4L837.5 909.2M837.5 519.7L837.5 524.9M881.7 914.4L881.7 906M881.7 519.7L881.7 528.1M925.9 914.4L925.9 909.2M925.9 519.7L925.9 524.9M970.1 914.4L970.1 906M970.1 519.7L970.1 528.1M1014.2 914.4L1014.2 909.2M1014.2 519.7L1014.2 524.9M1058.4 914.4L1058.4 906M1058.4 519.7L1058.4 528.1M1102.6 914.4L1102.6 909.2M1102.6 519.7L1102.6 524.9M1146.8 914.4L1146.8 906M1146.8 519.7L1146.8 528.1M1190.9 914.4L1190.9 909.2M1190.9 519.7L1190.9 524.9M1235.1 914.4L1235.1 906M1235.1 519.7L1235.1 528.1M1279.3 914.4L1279.3 909.2M1279.3 519.7L1279.3 524.9M793.3 852.7L798.7 852.7M1323.3 852.7L1317.9 852.7M793.3 790.9L802.5 790.9M1323.3 790.9L1314.1 790.9M793.3 729.2L798.7 729.2M1323.3 729.2L1317.9 729.2M793.3 667.5L802.5 667.5M1323.3 667.5L1314.1 667.5M793.3 605.8L798.7 605.8M1323.3 605.8L1317.9 605.8M793.3 544L802.5 544M1323.3 544L1314.1 544" stroke="#000" stroke-width="1.9" fill="none"/>
<text x="793.4" y="941.2" font-size="22.5" text-anchor="middle">-1.5</text>
<text x="881.7" y="941.2" font-size="22.5" text-anchor="middle">-1.0</text>
<text x="970.1" y="941.2" font-size="22.5" text-anchor="middle">-0.5</text>
<text x="1058.4" y="941.2" font-size="22.5" text-anchor="middle">0.0</text>
<text x="1146.8" y="941.2" font-size="22.5" text-anchor="middle">0.5</text>
<text x="1235.1" y="941.2" font-size="22.5" text-anchor="middle">1.0</text>
<text x="1323.5" y="941.2" font-size="22.5" text-anchor="middle">1.5</text>
<text x="784.6" y="922" font-size="22.5" text-anchor="end">0</text>
<text x="784" y="799.1" font-size="22.5" text-anchor="end">1x10<tspan font-size="13" dy="-10.6">5</tspan></text>
<text x="784" y="675.7" font-size="22.5" text-anchor="end">2x10<tspan font-size="13" dy="-10.6">5</tspan></text>
<text x="784" y="552.2" font-size="22.5" text-anchor="end">3x10<tspan font-size="13" dy="-10.6">5</tspan></text>
<text transform="translate(700.4 853.6) rotate(-90)" font-size="29.5">X-ray intensity (a.u.)</text>
<text x="996.6" y="981.4" font-size="29.5"><tspan font-family="'Liberation Serif', 'Times New Roman', serif" font-size="23">ω</tspan> (degree)</text>
<text x="819.2" y="567.6" font-size="28" text-anchor="start">GaN (002)</text>
<text x="1113.6" y="704.9" font-size="23.25" text-anchor="start">FWHM = 0.393 °</text>
</g>
<g id="chart-g">
<polyline points="1498.8,813.1 1499,813.3 1499.2,824.6 1499.4,806.2 1499.6,819.5 1499.7,806.5 1499.9,827.2 1500.1,821.7 1500.3,828.8 1500.5,817.3 1500.7,822.9 1500.9,818.6 1501.1,815.8 1501.2,821.3 1501.4,812.6 1501.6,818.2 1501.8,824.7 1502,820.7 1502.2,817.8 1502.4,833.9 1502.6,820.7 1502.7,816.7 1502.9,821.3 1503.1,817.1 1503.3,817.9 1503.5,818.2 1503.7,832.8 1503.9,820.4 1504.1,821.4 1504.3,824.5 1504.4,832.8 1504.6,818.9 1504.8,816.4 1505,835.6 1505.2,811.2 1505.4,818 1505.6,824.4 1505.8,834.4 1505.9,814.3 1506.1,805.2 1506.3,824.3 1506.5,816.9 1506.7,817.8 1506.9,823 1507.1,821.5 1507.3,821.9 1507.5,817.4 1507.6,828.1 1507.8,829.4 1508,820.3 1508.2,817.3 1508.4,824.6 1508.6,823 1508.8,813.6 1509,817.2 1509.1,826.5 1509.3,819.4 1509.5,817.9 1509.7,821.2 1509.9,819.7 1510.1,819.9 1510.3,807.9 1510.5,830.7 1510.6,821.1 1510.8,814.4 1511,825.9 1511.2,821.7 1511.4,819.9 1511.6,826.2 1511.8,833.7 1512,823.1 1512.2,829.5 1512.3,833 1512.5,813.3 1512.7,816.4 1512.9,824.4 1513.1,809 1513.3,817.9 1513.5,827.5 1513.7,825.9 1513.8,823.1 1514,807.7 1514.2,834 1514.4,822.8 1514.6,824.1 1514.8,822.4 1515,808.7 1515.2,810.4 1515.3,811.7 1515.5,831.1 1515.7,814.1 1515.9,817.7 1516.1,817.6 1516.3,822.7 1516.5,822.2 1516.7,820.7 1516.9,811.2 1517,799.6 1517.2,820 1517.4,820.6 1517.6,826.5 1517.8,818.3 1518,815.1 1518.2,821.4 1518.4,809.2 1518.5,812.3 1518.7,812.5 1518.9,820.5 1519.1,831.6 1519.3,823.4 1519.5,825.7 1519.7,820.1 1519.9,820.3 1520.1,815.8 1520.2,816.8 1520.4,803.5 1520.6,811 1520.8,810.5 1521,823.6 1521.2,822.5 1521.4,825.4 1521.6,827.9 1521.7,816.4 1521.9,824.8 1522.1,830.3 1522.3,818.1 1522.5,824.9 1522.7,817.1 1522.9,808.2 1523.1,818.8 1523.2,813 1523.4,818.7 1523.6,815.1 1523.8,819.9 1524,804.8 1524.2,830.7 1524.4,826.2 1524.6,815.7 1524.8,812.2 1524.9,817.8 1525.1,821.9 1525.3,820.3 1525.5,820.2 1525.7,805.6 1525.9,810.7 1526.1,825.9 1526.3,819.1 1526.4,808.2 1526.6,812.2 1526.8,808.6 1527,811.2 1527.2,824.7 1527.4,816 1527.6,824.3 1527.8,818.5 1527.9,808 1528.1,813.2 1528.3,831.4 1528.5,812.4 1528.7,810.6 1528.9,824.7 1529.1,817.6 1529.3,816.9 1529.5,826 1529.6,806 1529.8,819.4 1530,810.2 1530.2,808 1530.4,811.6 1530.6,823.7 1530.8,815.6 1531,805 1531.1,809.4 1531.3,825.6 1531.5,822.4 1531.7,809.3 1531.9,830.8 1532.1,813.5 1532.3,808.3 1532.5,814.6 1532.6,821 1532.8,824.9 1533,821.2 1533.2,812.1 1533.4,811.1 1533.6,805.4 1533.8,813.5 1534,810 1534.2,814.7 1534.3,805.3 1534.5,809.4 1534.7,806.8 1534.9,804.4 1535.1,803.9 1535.3,804.3 1535.5,802.6 1535.7,811.7 1535.8,807.8 1536,798.5 1536.2,806.9 1536.4,803.4 1536.6,806.6 1536.8,794.4 1537,789.9 1537.2,782.2 1537.4,779.1 1537.5,772.7 1537.7,762.5 1537.9,751.2 1538.1,743.1 1538.3,730.4 1538.5,718.9 1538.7,704 1538.9,693.4 1539,678.5 1539.2,667 1539.4,660.2 1539.6,660.9 1539.8,664.9 1540,674 1540.2,686.4 1540.4,701.7 1540.5,715.5 1540.7,727.6 1540.9,735.7 1541.1,747.8 1541.3,756.3 1541.5,765.8 1541.7,771.8 1541.9,781.5 1542.1,778.7 1542.2,788 1542.4,800.1 1542.6,796.3 1542.8,806.7 1543,798.6 1543.2,805.3 1543.4,811 1543.6,803.8 1543.7,806.6 1543.9,825.9 1544.1,808.2 1544.3,808.6 1544.5,809.9 1544.7,814 1544.9,814.1 1545.1,820.5 1545.2,819.7 1545.4,812.9 1545.6,813.4 1545.8,807.3 1546,807 1546.2,811.9 1546.4,821 1546.6,817.5 1546.8,821.9 1546.9,822.9 1547.1,816.3 1547.3,830.4 1547.5,814.4 1547.7,813.9 1547.9,815.2 1548.1,825 1548.3,817.2 1548.4,813.6 1548.6,821 1548.8,825.4 1549,817.7 1549.2,816.9 1549.4,825.3 1549.6,824.8 1549.8,824.6 1550,814 1550.1,820.6 1550.3,821.2 1550.5,807.8 1550.7,826.5 1550.9,819.7 1551.1,817 1551.3,833.3 1551.5,820.1 1551.6,814.8 1551.8,818.9 1552,822.9 1552.2,824.5 1552.4,819.1 1552.6,814 1552.8,815.1 1553,814.4 1553.1,812.9 1553.3,819.4 1553.5,816.5 1553.7,820 1553.9,814.5 1554.1,814.2 1554.3,818.5 1554.5,817.5 1554.7,827 1554.8,814.1 1555,821.1 1555.2,819.5 1555.4,811.6 1555.6,824.4 1555.8,820.9 1556,806.7 1556.2,823.7 1556.3,825.8 1556.5,814.9 1556.7,830.6 1556.9,820.9 1557.1,812.7 1557.3,823.5 1557.5,817.7 1557.7,811.6 1557.8,806.5 1558,821.6 1558.2,815.4 1558.4,824.1 1558.6,822.5 1558.8,816.8 1559,816.7 1559.2,831.2 1559.4,830.8 1559.5,824.8 1559.7,817.9 1559.9,813.9 1560.1,817.7 1560.3,830.6 1560.5,823 1560.7,818.3 1560.9,812.4 1561,821.2 1561.2,814.6 1561.4,820.3 1561.6,824.9 1561.8,826.9 1562,821.1 1562.2,818.1 1562.4,821.6 1562.6,831.6 1562.7,822.6 1562.9,811.4 1563.1,830 1563.3,821.8 1563.5,842.1 1563.7,817.3 1563.9,819.7 1564.1,818.4 1564.2,822.6 1564.4,816.6 1564.6,811 1564.8,808.2 1565,819.5 1565.2,817.1 1565.4,816.7 1565.6,833.6 1565.7,825.3 1565.9,827.2 1566.1,817.2 1566.3,822.2 1566.5,819 1566.7,819 1566.9,825 1567.1,824.1 1567.3,822.3 1567.4,821.3 1567.6,811.3 1567.8,815.7 1568,822.7 1568.2,818.1 1568.4,815.5 1568.6,822.6 1568.8,814.6 1568.9,816.1 1569.1,825.9 1569.3,818.1 1569.5,829.4 1569.7,823.7 1569.9,825.5 1570.1,827.5 1570.3,806.8 1570.4,819.9 1570.6,812.3 1570.8,817.5 1571,819.8 1571.2,828.2 1571.4,820.1 1571.6,830.7 1571.8,817.1 1572,820.1 1572.1,821 1572.3,826.4 1572.5,820.1 1572.7,816.6 1572.9,818.4 1573.1,811.7 1573.3,828.3 1573.5,825.1 1573.6,823.1 1573.8,822.2 1574,816.7 1574.2,817.9 1574.4,825.5 1574.6,815.5 1574.8,815.6 1575,830.4 1575.1,830.2 1575.3,822.3 1575.5,823.8 1575.7,821.7 1575.9,829.4 1576.1,817.7 1576.3,821 1576.5,823.5 1576.7,829.5 1576.8,819 1577,822 1577.2,817.5 1577.4,816.5 1577.6,816.5 1577.8,821.2 1578,826.2 1578.2,816.4 1578.3,817 1578.5,818.3 1578.7,823.1 1578.9,825.4 1579.1,813.3 1579.3,823.5 1579.5,815.2 1579.7,826 1579.9,815.8 1580,815.3 1580.2,817.9 1580.4,822.2 1580.6,816.8 1580.8,824.7 1581,824.8 1581.2,824.9 1581.4,826.6 1581.5,831 1581.7,821.7 1581.9,827.1 1582.1,827.7 1582.3,816 1582.5,832.1 1582.7,825.9 1582.9,827.2 1583,830 1583.2,834.5 1583.4,837 1583.6,839.1 1583.8,833 1584,842.7 1584.2,842.1 1584.4,838.2 1584.6,841.5 1584.7,847.6 1584.9,846.2 1585.1,848.6 1585.3,845.6 1585.5,852.6 1585.7,859.8 1585.9,849.2 1586.1,836.7 1586.2,857.4 1586.4,843.1 1586.6,837.8 1586.8,831.4 1587,848.2 1587.2,851.8 1587.4,850.5 1587.6,841.2 1587.7,851.6 1587.9,841.2 1588.1,837 1588.3,840 1588.5,839.8 1588.7,837.7 1588.9,838.7 1589.1,821.6 1589.3,843.7 1589.4,829.4 1589.6,835.9 1589.8,825.9 1590,830.8 1590.2,827.8 1590.4,818.3 1590.6,829.6 1590.8,830.4 1590.9,818.9 1591.1,812.2 1591.3,820.6 1591.5,818.9 1591.7,824.3 1591.9,823.1 1592.1,832.9 1592.3,826.6 1592.5,820.7 1592.6,823.1 1592.8,804 1593,816.1 1593.2,815.8 1593.4,820.7 1593.6,823.3 1593.8,822.6 1594,826.9 1594.1,816.8 1594.3,823 1594.5,820.2 1594.7,821.1 1594.9,823 1595.1,819.2 1595.3,822.3 1595.5,820.7 1595.6,827.3 1595.8,820.2 1596,822.8 1596.2,837 1596.4,824.8 1596.6,824.1 1596.8,827.6 1597,814.7 1597.2,825.3 1597.3,825.6 1597.5,823.7 1597.7,827 1597.9,825.8 1598.1,828.3 1598.3,817 1598.5,823.7 1598.7,817.6 1598.8,828.6 1599,821.8 1599.2,813 1599.4,821.7 1599.6,814.8 1599.8,827.1 1600,818.9 1600.2,807.5 1600.3,818.6 1600.5,827.3 1600.7,823.1 1600.9,817.2 1601.1,825 1601.3,824.6 1601.5,830.1 1601.7,826.6 1601.9,823.3 1602,816.2 1602.2,822.8 1602.4,822.9 1602.6,821.2 1602.8,823.7 1603,813.8 1603.2,824.6 1603.4,821.2 1603.5,823.3 1603.7,820.5 1603.9,819.3 1604.1,822.7 1604.3,825.9 1604.5,819.2 1604.7,823.1 1604.9,816.4 1605.1,823.7 1605.2,821.2 1605.4,813.3 1605.6,828.3 1605.8,815.7 1606,821.6 1606.2,813.1 1606.4,810.5 1606.6,825.2 1606.7,812.6 1606.9,808.4 1607.1,819.8 1607.3,811.7 1607.5,819.9 1607.7,832.3 1607.9,818.7 1608.1,823.3 1608.2,824.5 1608.4,822.6 1608.6,820.4 1608.8,830.3 1609,820.6 1609.2,823.2 1609.4,821.7 1609.6,813.2 1609.8,823 1609.9,821.4 1610.1,825 1610.3,825.2 1610.5,830.5 1610.7,809.4 1610.9,817.6 1611.1,818.1 1611.3,815.7 1611.4,823.4 1611.6,820.4 1611.8,821.7 1612,811 1612.2,815 1612.4,820.4 1612.6,818 1612.8,817 1612.9,820 1613.1,819 1613.3,814.2 1613.5,830.6 1613.7,816.4 1613.9,824.4 1614.1,824 1614.3,826.2 1614.5,816.9 1614.6,814.2 1614.8,822.8 1615,821.6 1615.2,805.9 1615.4,804.3 1615.6,816.6 1615.8,817.4 1616,818 1616.1,822 1616.3,813.6 1616.5,835 1616.7,824.5 1616.9,826.6 1617.1,820.4 1617.3,806.4 1617.5,819.8 1617.6,815 1617.8,820.5 1618,817 1618.2,821.3 1618.4,812 1618.6,814.7 1618.8,816.5 1619,811.7 1619.2,813 1619.3,818.6 1619.5,825.4 1619.7,812.7 1619.9,817.8 1620.1,806.1 1620.3,808.9 1620.5,812 1620.7,812 1620.8,801.8 1621,808.2 1621.2,803.2 1621.4,805.4 1621.6,799.2 1621.8,792 1622,781.5 1622.2,776.6 1622.4,763.8 1622.5,754.4 1622.7,741.1 1622.9,731.7 1623.1,720.2 1623.3,710.5 1623.5,697.9 1623.7,682.3 1623.9,671.1 1624,660.2 1624.2,653.8 1624.4,652.6 1624.6,660 1624.8,670.8 1625,685.9 1625.2,695 1625.4,711.3 1625.5,717.9 1625.7,739.7 1625.9,749.3 1626.1,750.5 1626.3,765.2 1626.5,770.4 1626.7,776.1 1626.9,788.1 1627.1,791.1 1627.2,804.4 1627.4,800.2 1627.6,799.8 1627.8,807.2 1628,811.5 1628.2,815.1 1628.4,814.6 1628.6,804.6 1628.7,809.1 1628.9,813.4 1629.1,810.3 1629.3,819.8 1629.5,814.2 1629.7,816.2 1629.9,814.9 1630.1,817.7 1630.2,809.1 1630.4,830.3 1630.6,815.1 1630.8,814.4 1631,808.5 1631.2,818.7 1631.4,811.3 1631.6,821.5 1631.8,826.8 1631.9,823.5 1632.1,817.5 1632.3,827.8 1632.5,819.3 1632.7,820.2 1632.9,821 1633.1,817.9 1633.3,823.4 1633.4,813.6 1633.6,810.5 1633.8,828.3 1634,816.9 1634.2,819.2 1634.4,823.4 1634.6,818.7 1634.8,814.5 1635,820.4 1635.1,816 1635.3,825 1635.5,819.2 1635.7,820.3 1635.9,826.5 1636.1,812.7 1636.3,813.1 1636.5,826.5 1636.6,829.7 1636.8,822.7 1637,817.9 1637.2,829.6 1637.4,825.4 1637.6,828.5 1637.8,811.4 1638,821.6 1638.1,816.2 1638.3,815.8 1638.5,825.9 1638.7,826.9 1638.9,819.7 1639.1,821 1639.3,830.9 1639.5,826.5 1639.7,821.9 1639.8,825.7 1640,823.3 1640.2,815 1640.4,819.6 1640.6,824.4 1640.8,826.5 1641,815.5 1641.2,817.9 1641.3,819.2 1641.5,813.6 1641.7,829.4 1641.9,825.5 1642.1,830.7 1642.3,809.6 1642.5,817.9 1642.7,833.8 1642.8,814.3 1643,811.8 1643.2,824.2 1643.4,832.4 1643.6,826.7 1643.8,817.1 1644,826.2 1644.2,825.4 1644.4,824.5 1644.5,825.3 1644.7,827.9 1644.9,830 1645.1,831.2 1645.3,829.4 1645.5,822 1645.7,811.7 1645.9,826.2 1646,813.8 1646.2,836.8 1646.4,815.9 1646.6,811.7 1646.8,811.7 1647,825.3 1647.2,824.8 1647.4,826.9 1647.6,824.7 1647.7,818.2 1647.9,827.9 1648.1,818.7 1648.3,813.8 1648.5,828.4 1648.7,826.2 1648.9,817.2 1649.1,821.4 1649.2,829.2 1649.4,828.6 1649.6,816.4 1649.8,829.6 1650,807.2 1650.2,823.4 1650.4,825.2 1650.6,822.2 1650.7,823.6 1650.9,813.1 1651.1,822.1 1651.3,825.9 1651.5,817.2 1651.7,823.7 1651.9,821.8 1652.1,809.1 1652.3,819.1 1652.4,826.4 1652.6,813.4 1652.8,823 1653,824.9 1653.2,815 1653.4,821.3 1653.6,828.2 1653.8,827.2 1653.9,816.7 1654.1,829 1654.3,824.8 1654.5,823.5 1654.7,831.9 1654.9,827.2 1655.1,825 1655.3,828.6 1655.4,826.8 1655.6,830.5 1655.8,822 1656,811.9 1656.2,832.2 1656.4,827.6 1656.6,825.9 1656.8,822.9 1657,822.1 1657.1,823.3 1657.3,816.9 1657.5,827.3 1657.7,823.1 1657.9,816.8 1658.1,824.2 1658.3,820.6 1658.5,822.4 1658.6,825.9 1658.8,839 1659,816 1659.2,825 1659.4,826.9 1659.6,825.1 1659.8,831.6 1660,819.9 1660.1,820.5 1660.3,822.4 1660.5,814.1 1660.7,829.2 1660.9,814.8 1661.1,825.8 1661.3,829.7 1661.5,817.3 1661.7,821.3 1661.8,821.1 1662,832.9 1662.2,824 1662.4,811.6 1662.6,828.9 1662.8,828.6 1663,810.1 1663.2,805.6 1663.3,838.2 1663.5,822.8 1663.7,809.2 1663.9,828.7 1664.1,830.9 1664.3,807.6 1664.5,830 1664.7,826.5 1664.9,822 1665,817.8 1665.2,824.5 1665.4,817.2 1665.6,823.1 1665.8,820.5 1666,819.4 1666.2,825.4 1666.4,828.1 1666.5,827.5 1666.7,824.8 1666.9,832.3 1667.1,814.3 1667.3,822.4 1667.5,823.1 1667.7,829.4 1667.9,808.1 1668,819.2 1668.2,820 1668.4,823.1 1668.6,835.8 1668.8,823.3 1669,821.3 1669.2,824.5 1669.4,827.9 1669.6,820.8 1669.7,832.1 1669.9,814.4 1670.1,829.5 1670.3,826.1 1670.5,827.9 1670.7,831.3 1670.9,820.3 1671.1,824.3 1671.2,823.3 1671.4,818 1671.6,817 1671.8,816.9 1672,826.9 1672.2,807.7 1672.4,813.8 1672.6,822.1 1672.7,829.6 1672.9,821 1673.1,829.4 1673.3,821.2 1673.5,818.3 1673.7,812 1673.9,822.7 1674.1,832.2 1674.3,822.1 1674.4,815.1 1674.6,825.1 1674.8,813.1 1675,814.5 1675.2,828.3 1675.4,824 1675.6,827.4 1675.8,822.9 1675.9,820.7 1676.1,822.5 1676.3,819.4 1676.5,827.8 1676.7,813.5 1676.9,809.7 1677.1,816.1 1677.3,826.9 1677.5,818 1677.6,807.1 1677.8,838.8 1678,815.6 1678.2,820.1 1678.4,824.8 1678.6,823.5 1678.8,820.2 1679,811.6 1679.1,824.4 1679.3,815.2 1679.5,820.1 1679.7,825.8 1679.9,818.8 1680.1,810.1 1680.3,817.4 1680.5,824.9 1680.6,825.5 1680.8,813.1 1681,821.4 1681.2,822.9 1681.4,827.6 1681.6,823.5 1681.8,822 1682,819.2 1682.2,823.9 1682.3,825.7 1682.5,820 1682.7,819.3 1682.9,831.7 1683.1,820.7 1683.3,816.1 1683.5,825.1 1683.7,813.3 1683.8,814.3 1684,826.5 1684.2,821 1684.4,825.7 1684.6,825.6 1684.8,816.2 1685,823.9 1685.2,818.5 1685.3,822.1 1685.5,822.4 1685.7,820.3 1685.9,812.9 1686.1,822.6 1686.3,820.9 1686.5,824 1686.7,814.3 1686.9,822 1687,819.5 1687.2,818.1 1687.4,819.1 1687.6,819.2 1687.8,812.3 1688,817.3 1688.2,817.8 1688.4,823.5 1688.5,819.7 1688.7,829.2 1688.9,824.3 1689.1,822.5 1689.3,821.8 1689.5,811.9 1689.7,822.8 1689.9,828.2 1690.1,814.3 1690.2,828.5 1690.4,824.2 1690.6,822.2 1690.8,817.9 1691,820.6 1691.2,815.7 1691.4,820.3 1691.6,820.7 1691.7,820.8 1691.9,813 1692.1,826 1692.3,816.4 1692.5,822.8 1692.7,823.9 1692.9,819.1 1693.1,835.2 1693.2,821 1693.4,822.8 1693.6,818.7 1693.8,822.2 1694,812.5 1694.2,824.1 1694.4,817.9 1694.6,817 1694.8,824.7 1694.9,825.6 1695.1,817.5 1695.3,813.9 1695.5,807.9 1695.7,814 1695.9,822.9 1696.1,823.8 1696.3,812.3 1696.4,820.2 1696.6,826.2 1696.8,815.2 1697,816.4 1697.2,814.3 1697.4,822.2 1697.6,808.3 1697.8,818.9 1697.9,822.4 1698.1,819.2 1698.3,825.3 1698.5,823.2 1698.7,816.4 1698.9,813.4 1699.1,813 1699.3,822.2 1699.5,818.4 1699.6,819.8 1699.8,813.6 1700,825.9 1700.2,824.1 1700.4,823.4 1700.6,812.1 1700.8,834.2 1701,823.6 1701.1,812.1 1701.3,824.1 1701.5,817.5 1701.7,813.5 1701.9,813.5 1702.1,820.8 1702.3,819.5 1702.5,818.8 1702.6,816.1 1702.8,811.2 1703,818.5 1703.2,815.2 1703.4,815.3 1703.6,819.8 1703.8,825.7 1704,811.9 1704.2,820.8 1704.3,810.6 1704.5,819.1 1704.7,817.4 1704.9,813.3 1705.1,813.7 1705.3,807.2 1705.5,808.6 1705.7,814.3 1705.8,811.6 1706,817.2 1706.2,797.6 1706.4,797.1 1706.6,795.6 1706.8,790.1 1707,781.4 1707.2,774.6 1707.4,767.6 1707.5,763 1707.7,748.5 1707.9,736.1 1708.1,727.6 1708.3,709.3 1708.5,701 1708.7,689.5 1708.9,681 1709,672 1709.2,676.9 1709.4,683.4 1709.6,698.3 1709.8,710.6 1710,720.1 1710.2,734 1710.4,740.5 1710.5,754.9 1710.7,764.9 1710.9,776.9 1711.1,779.3 1711.3,778.8 1711.5,797.9 1711.7,794.3 1711.9,801.1 1712.1,805.6 1712.2,819.3 1712.4,813.1 1712.6,822 1712.8,818.3 1713,812.2 1713.2,824.5 1713.4,826.6 1713.6,822.3 1713.7,818.2 1713.9,844.8 1714.1,842.1 1714.3,833.4 1714.5,834.6 1714.7,838.1 1714.9,836.5 1715.1,824.7 1715.2,825.3 1715.4,838 1715.6,840.8 1715.8,838.7 1716,836.7 1716.2,831.1 1716.4,836.2 1716.6,839 1716.8,832.4 1716.9,836.1 1717.1,835.4 1717.3,823.6 1717.5,834.5 1717.7,822.8 1717.9,821.8 1718.1,836.7 1718.3,817.4 1718.4,826.1 1718.6,832.7 1718.8,829.7 1719,825.2 1719.2,822 1719.4,830.6 1719.6,830.7 1719.8,827 1720,821.5 1720.1,818.6 1720.3,826.8 1720.5,826.3 1720.7,831.2 1720.9,824.1 1721.1,830.9 1721.3,817.9 1721.5,814.4 1721.6,829.8 1721.8,821.3 1722,818.4 1722.2,822.1 1722.4,815.4 1722.6,820.2 1722.8,813.7 1723,822.7 1723.1,817.9 1723.3,820.8 1723.5,821 1723.7,823.5 1723.9,810.4 1724.1,821.5 1724.3,818.8 1724.5,813.5 1724.7,818.7 1724.8,823.2 1725,823 1725.2,832 1725.4,818.2 1725.6,821 1725.8,831.7 1726,816.5 1726.2,815.1 1726.3,817.4 1726.5,816.6 1726.7,820 1726.9,821 1727.1,815.6 1727.3,813.3 1727.5,819.8 1727.7,812.8 1727.8,815.3 1728,822.2 1728.2,819.6 1728.4,814.2 1728.6,811.6 1728.8,814.2 1729,811.3 1729.2,823.4 1729.4,824.6 1729.5,822 1729.7,822.1 1729.9,817.3 1730.1,821.2 1730.3,820.6 1730.5,820.5 1730.7,817.3 1730.9,813.8 1731,822 1731.2,822.5 1731.4,813.6 1731.6,818.9 1731.8,820.1 1732,823.2 1732.2,810.1 1732.4,811.9 1732.6,812.1 1732.7,812.9 1732.9,813.8 1733.1,825.4 1733.3,813.4 1733.5,833 1733.7,821.9 1733.9,824.4 1734.1,820 1734.2,825.5 1734.4,822.6 1734.6,825.1 1734.8,823.8 1735,824 1735.2,822.6 1735.4,826.9 1735.6,820.5 1735.7,817.2 1735.9,829.8 1736.1,817.5 1736.3,822.7 1736.5,832.9 1736.7,816.5 1736.9,818.7 1737.1,816.3 1737.3,814.8 1737.4,824.2 1737.6,819.1 1737.8,821.1 1738,810.2 1738.2,823.2 1738.4,816.1 1738.6,808.8 1738.8,816.1 1738.9,810.8 1739.1,829.8 1739.3,810.3 1739.5,822.1 1739.7,814.2 1739.9,815.5 1740.1,812.7 1740.3,827.6 1740.4,813.8 1740.6,816.6 1740.8,821.8 1741,818.2 1741.2,824.5 1741.4,816 1741.6,810.7 1741.8,823.1 1742,827.5 1742.1,823.5 1742.3,815.4 1742.5,827.4 1742.7,825.1 1742.9,818.1 1743.1,823 1743.3,820.2 1743.5,821.1 1743.6,824.2 1743.8,825.6 1744,820.9 1744.2,820.8 1744.4,805.6 1744.6,815.6 1744.8,823.2 1745,815.6 1745.1,822.6 1745.3,819.2 1745.5,820.8 1745.7,821 1745.9,828.2 1746.1,823.4 1746.3,820.7 1746.5,813.3 1746.7,822.6 1746.8,814 1747,827.8 1747.2,816.3 1747.4,816.7 1747.6,819.5 1747.8,814.4 1748,823.4 1748.2,822.4 1748.3,816.4 1748.5,817.2 1748.7,831.3 1748.9,827.3 1749.1,823.7 1749.3,822.1 1749.5,829.4 1749.7,818.1 1749.9,818.9 1750,819.6 1750.2,814.1 1750.4,815.2 1750.6,831.4 1750.8,821.3 1751,815.2 1751.2,819 1751.4,817.5 1751.5,817.8 1751.7,820.1 1751.9,811.7 1752.1,809.7 1752.3,819.2 1752.5,819 1752.7,813.4 1752.9,819.8 1753,817.1 1753.2,821.6 1753.4,819.2 1753.6,827 1753.8,828.7 1754,824.4 1754.2,820.6 1754.4,825.5 1754.6,824.8 1754.7,823.2 1754.9,825.1 1755.1,818.2 1755.3,825.1 1755.5,823.6 1755.7,822.9 1755.9,819.5 1756.1,818.1 1756.2,823.9 1756.4,817.5 1756.6,814.1 1756.8,830.4 1757,827.5 1757.2,815.9 1757.4,828.7 1757.6,808.4 1757.7,824 1757.9,824.5 1758.1,822 1758.3,819.3 1758.5,825.1 1758.7,823.6 1758.9,813.8 1759.1,816.2 1759.3,826.4 1759.4,824.9 1759.6,813.7 1759.8,811.7 1760,823.1 1760.2,815.6 1760.4,816.2 1760.6,817.4 1760.8,821.8 1760.9,808.6 1761.1,825.1 1761.3,818.3 1761.5,825.9 1761.7,813.8 1761.9,815.3 1762.1,823.4 1762.3,826.3 1762.5,820.2 1762.6,818.5 1762.8,828.4 1763,826.9 1763.2,822.2 1763.4,819 1763.6,827.9 1763.8,824.6 1764,818.4 1764.1,829.1 1764.3,827 1764.5,821.8 1764.7,823.2 1764.9,825 1765.1,817.7 1765.3,813.4 1765.5,827.5 1765.6,810.9 1765.8,811.5 1766,812.1 1766.2,823.4 1766.4,826.6 1766.6,816.6 1766.8,828.1 1767,830.1 1767.2,828.6 1767.3,812.8 1767.5,828.1 1767.7,834 1767.9,815.1 1768.1,810.9 1768.3,828 1768.5,823.5 1768.7,820.2 1768.8,820.1 1769,810.3 1769.2,815.4 1769.4,821.5 1769.6,823.2 1769.8,825.9 1770,825.9 1770.2,817.6 1770.3,819.9 1770.5,828.8 1770.7,812.3 1770.9,823.5 1771.1,815.3 1771.3,821.6 1771.5,831.3 1771.7,822.7 1771.9,817.7 1772,816.3 1772.2,812 1772.4,820.2 1772.6,806.9 1772.8,819.8 1773,821.1 1773.2,814.9 1773.4,815.6 1773.5,827.3 1773.7,827.6 1773.9,832.4 1774.1,827.1 1774.3,822.1 1774.5,819 1774.7,827.5 1774.9,824.3 1775.1,821.3 1775.2,830.9 1775.4,819.3 1775.6,821.2 1775.8,826.7 1776,823.1 1776.2,820.6 1776.4,826.3 1776.6,836.5 1776.7,818.2 1776.9,824.2 1777.1,822.6 1777.3,821.1 1777.5,830 1777.7,819.6 1777.9,830.1 1778.1,814.2 1778.2,820.8 1778.4,815.2 1778.6,822.2 1778.8,824 1779,823.3 1779.2,821.3 1779.4,818.4 1779.6,812.7 1779.8,824.9 1779.9,820 1780.1,826.6 1780.3,809.9 1780.5,818.3 1780.7,809.7 1780.9,826.2 1781.1,815.4 1781.3,813.5 1781.4,824.8 1781.6,819.1 1781.8,821 1782,818.9 1782.2,826 1782.4,821.1 1782.6,820.9 1782.8,819.3 1782.9,825 1783.1,825.9 1783.3,817.1 1783.5,824.2 1783.7,810.3 1783.9,814.3 1784.1,815.8 1784.3,814.6 1784.5,822 1784.6,810.6 1784.8,809.6 1785,819.7 1785.2,813.4 1785.4,818.7 1785.6,818.8 1785.8,814.2 1786,815.7 1786.1,822.9 1786.3,817.8 1786.5,818 1786.7,821.4 1786.9,813.1 1787.1,810.2 1787.3,814.9 1787.5,826 1787.6,820 1787.8,829 1788,821.6 1788.2,820.9 1788.4,812.5 1788.6,805.7 1788.8,802.6 1789,814.9 1789.2,807.4 1789.3,806.6 1789.5,815.6 1789.7,813.4 1789.9,803.9 1790.1,811.3 1790.3,816.2 1790.5,812.3 1790.7,802 1790.8,808.1 1791,790.7 1791.2,795.4 1791.4,790.3 1791.6,792 1791.8,775.1 1792,768.6 1792.2,762.1 1792.4,755.8 1792.5,738.9 1792.7,732.2 1792.9,718.9 1793.1,706.4 1793.3,692.2 1793.5,682.1 1793.7,669.8 1793.9,661.8 1794,659.6 1794.2,664.6 1794.4,674 1794.6,687.9 1794.8,702.4 1795,713.9 1795.2,727 1795.4,739.6 1795.5,749.2 1795.7,757.7 1795.9,764.4 1796.1,781.1 1796.3,782.8 1796.5,788.9 1796.7,795.1 1796.9,802.7 1797.1,806.3 1797.2,800.9 1797.4,806.1 1797.6,814.2 1797.8,806.1 1798,810.6 1798.2,806.7 1798.4,804.1 1798.6,805.6 1798.7,814.3 1798.9,815.6 1799.1,799.8 1799.3,813.3 1799.5,813.9 1799.7,806.7 1799.9,815.4 1800.1,811.6 1800.2,824.1 1800.4,810.9 1800.6,822.8 1800.8,810.2 1801,811.2 1801.2,825.6 1801.4,813.1 1801.6,815.2 1801.8,808.6 1801.9,818.8 1802.1,826.2 1802.3,816.5 1802.5,816.7 1802.7,818.4 1802.9,814 1803.1,811 1803.3,818.9 1803.4,816.8 1803.6,808.5 1803.8,804.6 1804,821.7 1804.2,811.5 1804.4,821.7 1804.6,824.4 1804.8,818.7 1805,815.7 1805.1,804.2 1805.3,828.3 1805.5,824.6 1805.7,814.9 1805.9,813.1 1806.1,822.3 1806.3,807.6 1806.5,823.7 1806.6,825.1 1806.8,812.4 1807,813.2 1807.2,830.2 1807.4,816.7 1807.6,820.6 1807.8,817.6 1808,807.5 1808.1,825.7 1808.3,829.4 1808.5,816.3 1808.7,814.4 1808.9,828.9 1809.1,810.8 1809.3,818 1809.5,811.8 1809.7,810.4 1809.8,816.2 1810,803.9 1810.2,812.7 1810.4,820.2 1810.6,815.5 1810.8,813.3 1811,834.8 1811.2,824.7 1811.3,816.9 1811.5,826.5 1811.7,823.8 1811.9,821 1812.1,824.5 1812.3,817.8 1812.5,816.6 1812.7,830.8 1812.8,820.5 1813,829.2 1813.2,808.1 1813.4,814.6 1813.6,814.6 1813.8,820.9 1814,819.7 1814.2,825.9 1814.4,823.2 1814.5,820.1 1814.7,823.3 1814.9,824.4 1815.1,821.8 1815.3,805.5 1815.5,817.3 1815.7,823.9 1815.9,817.8 1816,828.5 1816.2,817.1 1816.4,820.6 1816.6,815.3 1816.8,819.4 1817,826.9 1817.2,828.7 1817.4,825.4 1817.6,824.3 1817.7,821 1817.9,812.5 1818.1,824 1818.3,816.4 1818.5,822 1818.7,819.6 1818.9,825.4 1819.1,816.3 1819.2,825 1819.4,820.3 1819.6,830 1819.8,819.6 1820,819.3 1820.2,809 1820.4,825.5 1820.6,820.5 1820.7,807 1820.9,823.2 1821.1,823.2 1821.3,818.4 1821.5,828.1 1821.7,819.7 1821.9,819.4 1822.1,822.7 1822.3,813.6 1822.4,823.6 1822.6,815.2 1822.8,821.9 1823,827 1823.2,818.1 1823.4,816.5 1823.6,830.4 1823.8,820.6 1823.9,826.9 1824.1,824 1824.3,823.2 1824.5,829 1824.7,820.3 1824.9,811.3 1825.1,819.1 1825.3,816.9 1825.4,813.9 1825.6,818.2 1825.8,823.1 1826,823.6 1826.2,821.2 1826.4,819.9 1826.6,821.1 1826.8,818.1 1827,815.7 1827.1,821.3 1827.3,826.1 1827.5,816.6 1827.7,821 1827.9,825.2 1828.1,815.3 1828.3,823.4 1828.5,822.2 1828.6,827.4 1828.8,816 1829,818.7 1829.2,830.8 1829.4,833.8 1829.6,825.2 1829.8,830 1830,818.1 1830.1,827.9 1830.3,823.8 1830.5,826.2 1830.7,814.9 1830.9,823.3 1831.1,826.6 1831.3,829.2 1831.5,825.4 1831.7,825.4 1831.8,828.8 1832,833.3 1832.2,814.8 1832.4,812.2 1832.6,823.7 1832.8,833.3 1833,834.7 1833.2,828.3 1833.3,818.4 1833.5,827.8 1833.7,820.6 1833.9,829.5 1834.1,823.6 1834.3,834.9 1834.5,819.1 1834.7,833.8 1834.9,820.8 1835,829.4 1835.2,827.3 1835.4,817.6 1835.6,814.1 1835.8,824.7 1836,823.9 1836.2,822.3 1836.4,830.4 1836.5,827.9 1836.7,829.8 1836.9,820 1837.1,825.4 1837.3,825.4 1837.5,832.5 1837.7,834.1 1837.9,823.5 1838,826.5 1838.2,812 1838.4,838.8 1838.6,828.8 1838.8,829.7 1839,828.6 1839.2,825.6 1839.4,816 1839.6,821 1839.7,821.6 1839.9,825 1840.1,819.7 1840.3,827.5 1840.5,830.1 1840.7,827.2 1840.9,826.9 1841.1,840.2 1841.2,821.1 1841.4,821.8 1841.6,830.6 1841.8,823.3 1842,835.8 1842.2,821.3 1842.4,825.1 1842.6,835.4 1842.7,815.2 1842.9,831.1 1843.1,826.4 1843.3,825.8 1843.5,832.8 1843.7,820.7 1843.9,827.9 1844.1,821 1844.3,831.6 1844.4,816.3 1844.6,823.1 1844.8,820.2 1845,816.7 1845.2,829.2 1845.4,820.6 1845.6,826.3 1845.8,808.7 1845.9,816.4 1846.1,816.6 1846.3,824.6 1846.5,812.6 1846.7,824.2 1846.9,827.9 1847.1,822.5 1847.3,822.7 1847.5,819.5 1847.6,816.4 1847.8,821.4 1848,822.8 1848.2,830.4 1848.4,822.5 1848.6,817 1848.8,826.2 1849,815 1849.1,808.9 1849.3,819.6 1849.5,816.7 1849.7,824.7 1849.9,820.5 1850.1,812.9 1850.3,816.4 1850.5,817.6 1850.6,833.2 1850.8,813.1 1851,814.3 1851.2,828 1851.4,829.4 1851.6,818.5 1851.8,828.8 1852,820 1852.2,815 1852.3,819.8 1852.5,825.9 1852.7,829.3 1852.9,819.1 1853.1,812.5 1853.3,821.7 1853.5,817.6 1853.7,816.3 1853.8,822.9 1854,821.6 1854.2,813 1854.4,816.1 1854.6,828.7 1854.8,819 1855,831.2 1855.2,805.7 1855.3,813.7 1855.5,820.3 1855.7,814.3 1855.9,821.2 1856.1,820.7 1856.3,812.1 1856.5,831.2 1856.7,830.8 1856.9,810 1857,818.4 1857.2,812.3 1857.4,817.7 1857.6,817.4 1857.8,818.7 1858,826.9 1858.2,827.4 1858.4,818.2 1858.5,822.7 1858.7,824.1 1858.9,810.7 1859.1,820.6 1859.3,814 1859.5,827.1 1859.7,827.7 1859.9,822 1860.1,828.9 1860.2,818.3 1860.4,815.3 1860.6,828.2 1860.8,820.1 1861,822 1861.2,812 1861.4,824.3 1861.6,819.5 1861.7,819.1 1861.9,813.3 1862.1,815.3 1862.3,817.3 1862.5,820.8 1862.7,827.5 1862.9,809.3 1863.1,811.3 1863.2,814 1863.4,815.3 1863.6,814.7 1863.8,812.7 1864,815.6 1864.2,822.3 1864.4,817.1 1864.6,814.1 1864.8,823.2 1864.9,820.4 1865.1,813.6 1865.3,826.7 1865.5,815.5 1865.7,813.5 1865.9,821.6 1866.1,814.4 1866.3,813.2 1866.4,827.4 1866.6,816.4 1866.8,813.4 1867,820.2 1867.2,818.2 1867.4,807.3 1867.6,816.2 1867.8,821.8 1867.9,816.1 1868.1,821.4 1868.3,811.7 1868.5,823.6 1868.7,816.4 1868.9,814 1869.1,811 1869.3,823.8 1869.5,817.9 1869.6,815.7 1869.8,820 1870,817 1870.2,815.7 1870.4,819.6 1870.6,814.8 1870.8,822.7 1871,830.8 1871.1,807 1871.3,816.9 1871.5,814.1 1871.7,820.1 1871.9,804.7 1872.1,828.3 1872.3,820.2 1872.5,827.2 1872.7,821.6 1872.8,808.7 1873,813.3 1873.2,823.1 1873.4,819.7 1873.6,808.5 1873.8,813.7 1874,819.2 1874.2,818.1 1874.3,808.1 1874.5,811.3 1874.7,811 1874.9,805.6 1875.1,804 1875.3,808.3 1875.5,801 1875.7,797.7 1875.8,799.7 1876,794.7 1876.2,786.1 1876.4,775.1 1876.6,765.5 1876.8,755.4 1877,746.7 1877.2,738.1 1877.4,722.2 1877.5,711 1877.7,697.9 1877.9,686.8 1878.1,672.1 1878.3,661.2 1878.5,649 1878.7,640.4 1878.9,640.2 1879,648.8 1879.2,658.2 1879.4,674.2 1879.6,684.5 1879.8,699.3 1880,713.6 1880.2,725.8 1880.4,733.1 1880.5,746.3 1880.7,759.7 1880.9,762.9 1881.1,784 1881.3,781 1881.5,790.4 1881.7,807.6 1881.9,797.1 1882.1,802.7 1882.2,806.7 1882.4,804.9 1882.6,801.9 1882.8,800.3 1883,810.9 1883.2,809.4 1883.4,818.8 1883.6,813.2 1883.7,816.6 1883.9,807.6 1884.1,812.2 1884.3,816.9 1884.5,812.9 1884.7,819.2 1884.9,813.3 1885.1,814.4 1885.2,818.6 1885.4,809.9 1885.6,832.1 1885.8,809.8 1886,826 1886.2,826.6 1886.4,816.4 1886.6,820.5 1886.8,824 1886.9,820.6 1887.1,822.4 1887.3,816.8 1887.5,821.9 1887.7,815.8 1887.9,812.4 1888.1,818 1888.3,823.7 1888.4,821.2 1888.6,821.8 1888.8,817.3 1889,820.5 1889.2,815.1 1889.4,819.2 1889.6,820.6 1889.8,815.2 1890,829.1 1890.1,808.6 1890.3,824.1 1890.5,818.4 1890.7,826.5 1890.9,817.4 1891.1,825.5 1891.3,816 1891.5,816 1891.6,819.4 1891.8,820.9 1892,814.8 1892.2,827.9 1892.4,814.4 1892.6,819.4 1892.8,821.5 1893,820.2 1893.1,827.3 1893.3,815.4 1893.5,826.9 1893.7,827.9 1893.9,821.3 1894.1,833 1894.3,811.7 1894.5,817.7 1894.7,812.6 1894.8,802.6 1895,807.2 1895.2,823 1895.4,814.7 1895.6,806.8 1895.8,821.8 1896,813.6 1896.2,818.8 1896.3,818.3 1896.5,830 1896.7,806.8 1896.9,822.6 1897.1,842.1 1897.3,821.6 1897.5,823.4 1897.7,821.1 1897.8,826.7 1898,824.2 1898.2,825.4 1898.4,814.8 1898.6,821.6 1898.8,824.6 1899,821.8 1899.2,825 1899.4,828.1 1899.5,829.8 1899.7,823.2 1899.9,825.4 1900.1,819.5 1900.3,819.7 1900.5,826.4 1900.7,814.2 1900.9,829.1 1901,815.1 1901.2,821.4 1901.4,817.2 1901.6,816.7 1901.8,824.8 1902,811.4 1902.2,830.6 1902.4,811.9 1902.6,826.4 1902.7,820.3 1902.9,820.2 1903.1,824.1 1903.3,830 1903.5,823.2 1903.7,817.8 1903.9,822.1 1904.1,828.1 1904.2,815.9 1904.4,823.8 1904.6,829.7 1904.8,818.3 1905,821.2 1905.2,827.8 1905.4,818.5 1905.6,822 1905.7,820.4 1905.9,823.6 1906.1,815.3 1906.3,811.9 1906.5,828.9 1906.7,817.3 1906.9,816.3 1907.1,827.5 1907.3,818.6 1907.4,820.9 1907.6,815.2 1907.8,820.4 1908,824.4 1908.2,828.6 1908.4,826.8 1908.6,814.7 1908.8,820.1 1908.9,826.3 1909.1,816.9 1909.3,816.5 1909.5,820.2 1909.7,828.9 1909.9,815 1910.1,827.1 1910.3,826.6 1910.4,818.1 1910.6,814.6 1910.8,820.4 1911,820 1911.2,818.3 1911.4,822.5 1911.6,836.2 1911.8,828 1912,829.7 1912.1,821.8 1912.3,829.4 1912.5,817.9 1912.7,823.6 1912.9,829.2 1913.1,836.1 1913.3,825.6 1913.5,823.1 1913.6,821.8 1913.8,816.3 1914,825.9 1914.2,832.3 1914.4,826.4 1914.6,821.7 1914.8,820.6 1915,816.2 1915.2,830.5 1915.3,822.1 1915.5,829.4 1915.7,816.6 1915.9,826.7 1916.1,827.1 1916.3,821.2 1916.5,818.7 1916.7,838.3 1916.8,832.1 1917,830.1 1917.2,818 1917.4,831 1917.6,825.9 1917.8,832.9 1918,821.4 1918.2,820.7 1918.3,815.6 1918.5,812.6 1918.7,811.6 1918.9,819.6 1919.1,822.1 1919.3,831.4 1919.5,834.1 1919.7,818.4 1919.9,808 1920,823.8 1920.2,824.3 1920.4,819.3 1920.6,816 1920.8,817.6 1921,823 1921.2,822.9 1921.4,811.2 1921.5,821 1921.7,815.4 1921.9,815.7 1922.1,822.3 1922.3,816.5 1922.5,823.1 1922.7,806.3 1922.9,824.9 1923,822.9 1923.2,818.7 1923.4,816.4 1923.6,811.8 1923.8,814.5 1924,832.5 1924.2,824 1924.4,820.9 1924.6,817.5 1924.7,817.5 1924.9,814.1 1925.1,823.4 1925.3,827.3 1925.5,815 1925.7,825.3 1925.9,818.7 1926.1,823.5 1926.2,815.8 1926.4,826.2 1926.6,831.8 1926.8,817.7 1927,819.6 1927.2,827.3 1927.4,817.1 1927.6,813.3 1927.7,805.6 1927.9,818 1928.1,828.4 1928.3,816.7 1928.5,820.1 1928.7,805.8 1928.9,818.1 1929.1,819.9 1929.3,816.9 1929.4,818 1929.6,813.6 1929.8,815.2 1930,828.2 1930.2,813.7 1930.4,829 1930.6,812.6 1930.8,828.8 1930.9,820.3 1931.1,825 1931.3,819.8 1931.5,824.1 1931.7,835.7 1931.9,806.9 1932.1,817.3 1932.3,823.6 1932.5,830.2 1932.6,813.1 1932.8,821.4 1933,826.5 1933.2,817.9 1933.4,821.3 1933.6,822.7 1933.8,827.2 1934,823.7 1934.1,823.5 1934.3,817 1934.5,817.9 1934.7,834.7 1934.9,813.1 1935.1,818.7 1935.3,816.7 1935.5,821.4 1935.6,815.4 1935.8,825.5 1936,816.3 1936.2,817.3 1936.4,811.4 1936.6,818 1936.8,811.1 1937,819 1937.2,823.9 1937.3,810.4 1937.5,832.4 1937.7,825.8 1937.9,822.1 1938.1,818.5 1938.3,827.1 1938.5,823.5 1938.7,818.1 1938.8,821.8 1939,821.5 1939.2,815.5 1939.4,829.2 1939.6,812.3 1939.8,823.4 1940,814.9 1940.2,820.3 1940.3,819.2 1940.5,821.7 1940.7,830.3 1940.9,817.7 1941.1,824.1 1941.3,823.1 1941.5,822.2 1941.7,813.5 1941.9,820.5 1942,810.3 1942.2,827.6 1942.4,829.7 1942.6,821.6 1942.8,823.8 1943,820.3 1943.2,809.2 1943.4,818.5 1943.5,826.3 1943.7,820 1943.9,815.3 1944.1,802.4 1944.3,827 1944.5,830.6 1944.7,831.2 1944.9,836.2 1945.1,806.8 1945.2,820.5 1945.4,824.4 1945.6,816.8 1945.8,821.7 1946,827.4 1946.2,816.6 1946.4,824.2 1946.6,814.2 1946.7,804.8 1946.9,820.3 1947.1,823.3 1947.3,823.2 1947.5,825.2 1947.7,813.7 1947.9,824.1 1948.1,800.4 1948.2,821.2 1948.4,811.6 1948.6,820 1948.8,812.4 1949,821 1949.2,825.2 1949.4,826.5 1949.6,816.4 1949.8,828.4 1949.9,821.5 1950.1,828.3 1950.3,819.3 1950.5,812.9 1950.7,819.9 1950.9,813.8 1951.1,813.3 1951.3,806.3 1951.4,820.4 1951.6,827.5 1951.8,812.4 1952,817.8 1952.2,809.6 1952.4,821.5 1952.6,825.8 1952.8,818.6 1952.9,823.1 1953.1,823.1 1953.3,817.4 1953.5,823.3 1953.7,808.1 1953.9,817.4 1954.1,819.2 1954.3,822.2 1954.5,826 1954.6,816.7 1954.8,812.5 1955,814.9 1955.2,815.6 1955.4,811.8 1955.6,808.6 1955.8,818.7 1956,809.4 1956.1,816.4 1956.3,816.3 1956.5,815.6 1956.7,821.9 1956.9,817.6 1957.1,816.2 1957.3,823.4 1957.5,812 1957.7,805.6 1957.8,809.9 1958,818.1 1958.2,805.9 1958.4,805.9 1958.6,812.3 1958.8,822 1959,804.4 1959.2,810.4 1959.3,809.7 1959.5,795.6 1959.7,790.7 1959.9,787.6 1960.1,779.2 1960.3,774.8 1960.5,761.8 1960.7,756 1960.8,746.3 1961,741.5 1961.2,721 1961.4,712.5 1961.6,698.2 1961.8,687.2 1962,675.6 1962.2,668.3 1962.4,669.2 1962.5,675.1 1962.7,687.6 1962.9,701.7 1963.1,713.4 1963.3,724.6 1963.5,737.7 1963.7,746.1 1963.9,758.6 1964,776.3 1964.2,776.5 1964.4,791.1 1964.6,792.4 1964.8,792.4 1965,800.2 1965.2,797.2 1965.4,808.5 1965.5,814.7 1965.7,813 1965.9,817.6 1966.1,815.3 1966.3,814.8 1966.5,809.2 1966.7,825.3 1966.9,831.1 1967.1,833.9 1967.2,830.9 1967.4,839.4 1967.6,842.7 1967.8,846.6 1968,841.9 1968.2,841.3 1968.4,838 1968.6,848.3 1968.7,848.6 1968.9,845.5 1969.1,850.1 1969.3,839.4 1969.5,846.4 1969.7,851.9 1969.9,838.7 1970.1,826.4 1970.2,834.4 1970.4,828.8 1970.6,830.7 1970.8,826.9 1971,823.8 1971.2,828.5 1971.4,832.3 1971.6,824.4 1971.8,825.8 1971.9,815.5 1972.1,837.3 1972.3,819.4 1972.5,824.9 1972.7,816.2 1972.9,827.8 1973.1,819 1973.3,825.1 1973.4,820.9 1973.6,822.7 1973.8,822.4 1974,819 1974.2,823.2 1974.4,819.2 1974.6,821.9 1974.8,821.2 1975,817 1975.1,824.6 1975.3,826.9 1975.5,823.9 1975.7,813.2 1975.9,825.7 1976.1,827.4 1976.3,811.8 1976.5,828.1 1976.6,807.3 1976.8,823.3 1977,825.3 1977.2,828.8 1977.4,830 1977.6,823.5 1977.8,826.4 1978,829.9 1978.1,831.4 1978.3,822.1 1978.5,825.3 1978.7,812.8 1978.9,815.3 1979.1,828.5 1979.3,822.5 1979.5,812.8 1979.7,819 1979.8,809.4 1980,819.3 1980.2,825.7 1980.4,809.3 1980.6,819.4 1980.8,821.9 1981,818.9 1981.2,820.5 1981.3,815.6 1981.5,814.9 1981.7,820 1981.9,808.5 1982.1,819.2 1982.3,810.8 1982.5,815.3 1982.7,828.8 1982.8,817.4 1983,816.9 1983.2,825 1983.4,815.1 1983.6,816.2 1983.8,819.5 1984,823.7 1984.2,814.1 1984.4,819.7 1984.5,808.4 1984.7,812.1 1984.9,819.3 1985.1,815.8 1985.3,821.3 1985.5,824.5 1985.7,807 1985.9,821.9 1986,820.6 1986.2,817.8 1986.4,820.8 1986.6,815.1 1986.8,822.4 1987,820.9 1987.2,831 1987.4,808.2 1987.6,813.5 1987.7,822.4 1987.9,826 1988.1,812.4 1988.3,813.2 1988.5,816.8 1988.7,822.1 1988.9,814.3 1989.1,825.6 1989.2,829.1 1989.4,818.5 1989.6,826.9 1989.8,810.7 1990,813.8 1990.2,823.6 1990.4,825.4 1990.6,811.8 1990.7,817.2 1990.9,822.7 1991.1,819.8 1991.3,815.3 1991.5,820 1991.7,825.1 1991.9,816.9 1992.1,812.2 1992.3,828 1992.4,817.2 1992.6,807.6 1992.8,821.7 1993,825.7 1993.2,826.7 1993.4,826 1993.6,820 1993.8,822.2 1993.9,822.9 1994.1,830.3 1994.3,822.1 1994.5,810.6 1994.7,826.4 1994.9,821.2 1995.1,819.2 1995.3,818.7 1995.4,825 1995.6,820.3 1995.8,821.9 1996,820.3 1996.2,826.1 1996.4,813.2 1996.6,822.7 1996.8,823.4 1997,820.2 1997.1,829.4 1997.3,830.4 1997.5,818.6 1997.7,827.9 1997.9,816 1998.1,832.8 1998.3,827.8 1998.5,817.2 1998.6,825.4 1998.8,823.8 1999,818.2 1999.2,812.8 1999.4,819.3 1999.6,826.6 1999.8,826.3 2000,822.8 2000.2,823.2 2000.3,815 2000.5,816.8 2000.7,821.3 2000.9,819 2001.1,814.2 2001.3,812.5 2001.5,827.5 2001.7,819.8 2001.8,822.9 2002,814.1 2002.2,812.6 2002.4,825.9 2002.6,822.3 2002.8,826.1 2003,815.6 2003.2,817.8 2003.3,822.3 2003.5,818.5 2003.7,828.5 2003.9,828.3 2004.1,815.8 2004.3,826.7 2004.5,819.2 2004.7,825.6 2004.9,822.9 2005,819.1 2005.2,822.1 2005.4,832.4 2005.6,827.2 2005.8,823.1 2006,818.5 2006.2,835.6 2006.4,829.1 2006.5,823.1" fill="none" stroke="#000" stroke-width="2.2" stroke-linejoin="round"/>
<rect x="1498.8" y="523.4" width="507.7" height="377.9" fill="none" stroke="#000" stroke-width="2.0"/>
<path d="M1498.8 901.3L1498.8 892.7M1498.8 523.4L1498.8 532M1534.1 901.3L1534.1 896.3M1534.1 523.4L1534.1 528.4M1569.3 901.3L1569.3 892.7M1569.3 523.4L1569.3 532M1604.6 901.3L1604.6 896.3M1604.6 523.4L1604.6 528.4M1639.8 901.3L1639.8 892.7M1639.8 523.4L1639.8 532M1675.1 901.3L1675.1 896.3M1675.1 523.4L1675.1 528.4M1710.4 901.3L1710.4 892.7M1710.4 523.4L1710.4 532M1745.6 901.3L1745.6 896.3M1745.6 523.4L1745.6 528.4M1780.9 901.3L1780.9 892.7M1780.9 523.4L1780.9 532M1816.1 901.3L1816.1 896.3M1816.1 523.4L1816.1 528.4M1851.4 901.3L1851.4 892.7M1851.4 523.4L1851.4 532M1886.7 901.3L1886.7 896.3M1886.7 523.4L1886.7 528.4M1921.9 901.3L1921.9 892.7M1921.9 523.4L1921.9 532M1957.2 901.3L1957.2 896.3M1957.2 523.4L1957.2 528.4M1992.4 901.3L1992.4 892.7M1992.4 523.4L1992.4 532M1498.8 901.3L1507.4 901.3M2006.5 901.3L1997.9 901.3M1498.8 844.4L1503.8 844.4M2006.5 844.4L2001.5 844.4M1498.8 811.2L1503.8 811.2M2006.5 811.2L2001.5 811.2M1498.8 787.6L1503.8 787.6M2006.5 787.6L2001.5 787.6M1498.8 769.3L1503.8 769.3M2006.5 769.3L2001.5 769.3M1498.8 754.3L1503.8 754.3M2006.5 754.3L2001.5 754.3M1498.8 741.7L1503.8 741.7M2006.5 741.7L2001.5 741.7M1498.8 730.7L1503.8 730.7M2006.5 730.7L2001.5 730.7M1498.8 721L1503.8 721M2006.5 721L2001.5 721M1498.8 712.4L1507.4 712.4M2006.5 712.4L1997.9 712.4M1498.8 655.5L1503.8 655.5M2006.5 655.5L2001.5 655.5M1498.8 622.3L1503.8 622.3M2006.5 622.3L2001.5 622.3M1498.8 598.7L1503.8 598.7M2006.5 598.7L2001.5 598.7M1498.8 580.4L1503.8 580.4M2006.5 580.4L2001.5 580.4M1498.8 565.4L1503.8 565.4M2006.5 565.4L2001.5 565.4M1498.8 552.8L1503.8 552.8M2006.5 552.8L2001.5 552.8M1498.8 541.8L1503.8 541.8M2006.5 541.8L2001.5 541.8M1498.8 532.1L1503.8 532.1M2006.5 532.1L2001.5 532.1" stroke="#000" stroke-width="2.0" fill="none"/>
<text x="1498.8" y="926.4" font-size="21.5" text-anchor="middle">0</text>
<text x="1569.3" y="926.4" font-size="21.5" text-anchor="middle">50</text>
<text x="1639.8" y="926.4" font-size="21.5" text-anchor="middle">100</text>
<text x="1710.4" y="926.4" font-size="21.5" text-anchor="middle">150</text>
<text x="1780.9" y="926.4" font-size="21.5" text-anchor="middle">200</text>
<text x="1851.4" y="926.4" font-size="21.5" text-anchor="middle">250</text>
<text x="1921.9" y="926.4" font-size="21.5" text-anchor="middle">300</text>
<text x="1992.4" y="926.4" font-size="21.5" text-anchor="middle">350</text>
<text x="1490.2" y="909.3" font-size="21.5" text-anchor="end">1x10<tspan font-size="12.5" dy="-10.2">2</tspan></text>
<text x="1490.2" y="720.4" font-size="21.5" text-anchor="end">1x10<tspan font-size="12.5" dy="-10.2">3</tspan></text>
<text x="1490.2" y="531.5" font-size="21.5" text-anchor="end">1x10<tspan font-size="12.5" dy="-10.2">4</tspan></text>
<text transform="translate(1409.8 857.4) rotate(-90)" font-size="31.2">X-ray intensity (a.u.)</text>
<text x="1677.4" y="966" font-size="31.2" text-anchor="start">phi (degree)</text>
<text x="1533.2" y="573.9" font-size="27" text-anchor="start">GaN (102)</text>
</g>
</svg>
</body>
</html>
